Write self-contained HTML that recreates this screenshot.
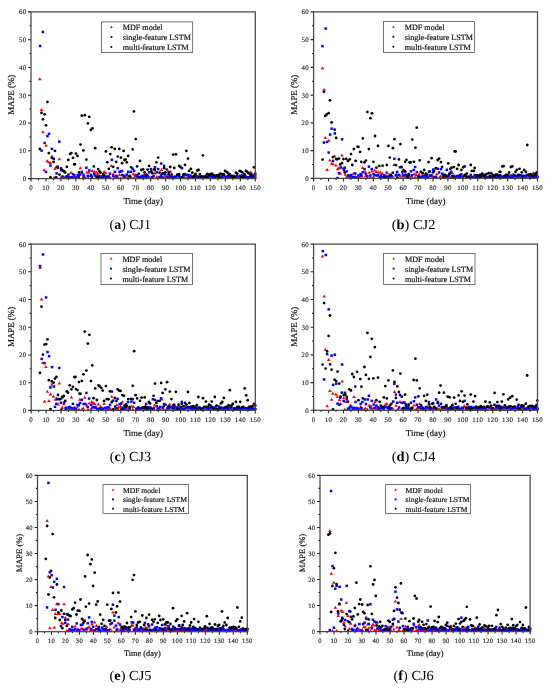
<!DOCTYPE html>
<html><head><meta charset="utf-8"><style>
html,body{margin:0;padding:0;background:#fff;}
svg{display:block;filter:blur(0.3px);}
text{font-family:"Liberation Serif","DejaVu Serif",serif;text-rendering:geometricPrecision;}
</style></head><body>
<svg width="550" height="689" viewBox="0 0 550 689">
<rect width="550" height="689" fill="#fff"/>
<clipPath id="cpa"><rect x="25.0" y="5.9" width="236.3" height="173.0"/></clipPath><g clip-path="url(#cpa)">
<g fill="#ff0000"><path d="M39.8 77.3l1.75 3.0h-3.5z"/><path d="M41.5 108.0l1.75 3.0h-3.5z"/><path d="M42.9 130.2l1.75 3.0h-3.5z"/><path d="M46.0 143.7l1.75 3.0h-3.5z"/><path d="M51.9 154.4l1.75 3.0h-3.5z"/><path d="M59.3 157.2l1.75 3.0h-3.5z"/><path d="M47.2 159.2l1.75 3.0h-3.5z"/><path d="M48.8 160.4l1.75 3.0h-3.5z"/><path d="M50.5 161.2l1.75 3.0h-3.5z"/><path d="M55.0 167.0l1.75 3.0h-3.5z"/><path d="M56.2 164.9l1.75 3.0h-3.5z"/><path d="M44.1 168.3l1.75 3.0h-3.5z"/><path d="M70.9 170.7l1.75 3.0h-3.5z"/><path d="M80.3 166.3l1.75 3.0h-3.5z"/><path d="M111.4 164.0l1.75 3.0h-3.5z"/><path d="M92.3 169.0l1.75 3.0h-3.5z"/><path d="M94.5 169.9l1.75 3.0h-3.5z"/><path d="M96.8 170.4l1.75 3.0h-3.5z"/><path d="M86.8 170.4l1.75 3.0h-3.5z"/><path d="M88.6 170.8l1.75 3.0h-3.5z"/><path d="M104.1 169.9l1.75 3.0h-3.5z"/><path d="M105.9 171.3l1.75 3.0h-3.5z"/><path d="M97.7 172.2l1.75 3.0h-3.5z"/><path d="M98.6 173.1l1.75 3.0h-3.5z"/><path d="M113.2 172.2l1.75 3.0h-3.5z"/><path d="M119.5 173.1l1.75 3.0h-3.5z"/><path d="M122.3 169.0l1.75 3.0h-3.5z"/><path d="M82.3 171.3l1.75 3.0h-3.5z"/><path d="M90.5 174.0l1.75 3.0h-3.5z"/><path d="M102.3 174.0l1.75 3.0h-3.5z"/><path d="M114.5 175.4l1.75 3.0h-3.5z"/><path d="M133.2 172.2l1.75 3.0h-3.5z"/><path d="M135.0 173.1l1.75 3.0h-3.5z"/><path d="M144.1 172.7l1.75 3.0h-3.5z"/><path d="M155.0 171.3l1.75 3.0h-3.5z"/><path d="M161.4 168.1l1.75 3.0h-3.5z"/><path d="M162.3 172.2l1.75 3.0h-3.5z"/><path d="M170.4 169.9l1.75 3.0h-3.5z"/><path d="M127.3 174.9l1.75 3.0h-3.5z"/><path d="M146.8 174.0l1.75 3.0h-3.5z"/><path d="M149.6 175.4l1.75 3.0h-3.5z"/><path d="M156.8 174.9l1.75 3.0h-3.5z"/><path d="M159.6 175.4l1.75 3.0h-3.5z"/><path d="M166.8 174.9l1.75 3.0h-3.5z"/><path d="M131.4 175.4l1.75 3.0h-3.5z"/><path d="M189.1 175.4l1.75 3.0h-3.5z"/><path d="M195.4 172.7l1.75 3.0h-3.5z"/><path d="M183.6 175.8l1.75 3.0h-3.5z"/><path d="M209.1 175.8l1.75 3.0h-3.5z"/><path d="M175.4 175.8l1.75 3.0h-3.5z"/><path d="M201.8 175.8l1.75 3.0h-3.5z"/><path d="M215.4 175.8l1.75 3.0h-3.5z"/><path d="M250.4 170.4l1.75 3.0h-3.5z"/><path d="M251.4 171.3l1.75 3.0h-3.5z"/><path d="M244.1 174.5l1.75 3.0h-3.5z"/><path d="M254.1 173.1l1.75 3.0h-3.5z"/><path d="M224.1 175.7l1.75 3.0h-3.5z"/><path d="M237.7 175.7l1.75 3.0h-3.5z"/><path d="M247.7 175.7l1.75 3.0h-3.5z"/><path d="M216.8 175.8l1.75 3.0h-3.5z"/><path d="M60.9 175.8l1.75 3.0h-3.5z"/><path d="M62.4 174.9l1.75 3.0h-3.5z"/><path d="M63.9 175.3l1.75 3.0h-3.5z"/><path d="M65.4 175.5l1.75 3.0h-3.5z"/><path d="M66.9 176.2l1.75 3.0h-3.5z"/><path d="M68.4 175.0l1.75 3.0h-3.5z"/><path d="M69.9 175.7l1.75 3.0h-3.5z"/><path d="M72.9 176.2l1.75 3.0h-3.5z"/><path d="M74.4 175.3l1.75 3.0h-3.5z"/><path d="M75.9 176.2l1.75 3.0h-3.5z"/><path d="M77.4 175.5l1.75 3.0h-3.5z"/><path d="M78.9 176.3l1.75 3.0h-3.5z"/><path d="M83.3 175.0l1.75 3.0h-3.5z"/><path d="M84.8 175.4l1.75 3.0h-3.5z"/><path d="M87.8 175.5l1.75 3.0h-3.5z"/><path d="M99.8 175.3l1.75 3.0h-3.5z"/><path d="M101.3 175.7l1.75 3.0h-3.5z"/><path d="M107.3 175.7l1.75 3.0h-3.5z"/><path d="M108.8 175.4l1.75 3.0h-3.5z"/><path d="M110.3 175.9l1.75 3.0h-3.5z"/><path d="M116.2 175.7l1.75 3.0h-3.5z"/><path d="M117.7 175.3l1.75 3.0h-3.5z"/><path d="M120.7 176.3l1.75 3.0h-3.5z"/><path d="M123.7 175.2l1.75 3.0h-3.5z"/><path d="M125.2 175.0l1.75 3.0h-3.5z"/><path d="M128.2 175.1l1.75 3.0h-3.5z"/><path d="M129.7 176.0l1.75 3.0h-3.5z"/><path d="M134.2 175.4l1.75 3.0h-3.5z"/><path d="M137.2 175.6l1.75 3.0h-3.5z"/><path d="M138.7 175.8l1.75 3.0h-3.5z"/><path d="M140.2 175.2l1.75 3.0h-3.5z"/><path d="M141.7 176.0l1.75 3.0h-3.5z"/><path d="M143.2 175.1l1.75 3.0h-3.5z"/><path d="M147.6 175.2l1.75 3.0h-3.5z"/><path d="M150.6 176.2l1.75 3.0h-3.5z"/><path d="M152.1 176.4l1.75 3.0h-3.5z"/><path d="M153.6 176.3l1.75 3.0h-3.5z"/><path d="M158.1 176.0l1.75 3.0h-3.5z"/><path d="M164.1 175.2l1.75 3.0h-3.5z"/><path d="M165.6 175.6l1.75 3.0h-3.5z"/><path d="M168.6 175.1l1.75 3.0h-3.5z"/><path d="M171.6 175.2l1.75 3.0h-3.5z"/><path d="M173.1 176.3l1.75 3.0h-3.5z"/><path d="M174.6 175.0l1.75 3.0h-3.5z"/><path d="M177.5 174.8l1.75 3.0h-3.5z"/><path d="M179.0 176.2l1.75 3.0h-3.5z"/><path d="M180.5 175.0l1.75 3.0h-3.5z"/><path d="M182.0 176.4l1.75 3.0h-3.5z"/><path d="M185.0 176.2l1.75 3.0h-3.5z"/><path d="M186.5 176.3l1.75 3.0h-3.5z"/><path d="M188.0 175.2l1.75 3.0h-3.5z"/><path d="M191.0 175.0l1.75 3.0h-3.5z"/><path d="M192.5 174.9l1.75 3.0h-3.5z"/><path d="M194.0 175.4l1.75 3.0h-3.5z"/><path d="M197.0 175.2l1.75 3.0h-3.5z"/><path d="M198.5 176.3l1.75 3.0h-3.5z"/><path d="M200.0 174.9l1.75 3.0h-3.5z"/><path d="M203.0 175.4l1.75 3.0h-3.5z"/><path d="M204.5 175.9l1.75 3.0h-3.5z"/><path d="M206.0 175.0l1.75 3.0h-3.5z"/><path d="M207.4 174.8l1.75 3.0h-3.5z"/><path d="M210.4 175.1l1.75 3.0h-3.5z"/><path d="M211.9 175.4l1.75 3.0h-3.5z"/><path d="M213.4 175.1l1.75 3.0h-3.5z"/><path d="M217.9 176.0l1.75 3.0h-3.5z"/><path d="M219.4 175.3l1.75 3.0h-3.5z"/><path d="M220.9 175.8l1.75 3.0h-3.5z"/><path d="M222.4 175.1l1.75 3.0h-3.5z"/><path d="M225.4 176.0l1.75 3.0h-3.5z"/><path d="M226.9 175.5l1.75 3.0h-3.5z"/><path d="M228.4 174.9l1.75 3.0h-3.5z"/><path d="M229.9 174.9l1.75 3.0h-3.5z"/><path d="M231.4 174.9l1.75 3.0h-3.5z"/><path d="M232.9 174.8l1.75 3.0h-3.5z"/><path d="M234.4 176.2l1.75 3.0h-3.5z"/><path d="M235.9 175.8l1.75 3.0h-3.5z"/><path d="M238.9 175.5l1.75 3.0h-3.5z"/><path d="M240.3 175.4l1.75 3.0h-3.5z"/><path d="M241.8 175.0l1.75 3.0h-3.5z"/><path d="M243.3 175.4l1.75 3.0h-3.5z"/><path d="M246.3 175.6l1.75 3.0h-3.5z"/><path d="M249.3 175.0l1.75 3.0h-3.5z"/><path d="M252.3 175.1l1.75 3.0h-3.5z"/><path d="M255.3 175.9l1.75 3.0h-3.5z"/></g>
<g fill="#0000ff"><rect x="41.55" y="30.69" width="2.5" height="2.5"/><rect x="38.81" y="44.80" width="2.5" height="2.5"/><rect x="47.73" y="132.60" width="2.5" height="2.5"/><rect x="46.18" y="134.89" width="2.5" height="2.5"/><rect x="58.04" y="140.37" width="2.5" height="2.5"/><rect x="43.31" y="141.68" width="2.5" height="2.5"/><rect x="40.37" y="149.37" width="2.5" height="2.5"/><rect x="50.68" y="147.57" width="2.5" height="2.5"/><rect x="52.48" y="157.55" width="2.5" height="2.5"/><rect x="49.20" y="164.34" width="2.5" height="2.5"/><rect x="56.57" y="165.40" width="2.5" height="2.5"/><rect x="44.70" y="170.64" width="2.5" height="2.5"/><rect x="59.84" y="169.00" width="2.5" height="2.5"/><rect x="62.70" y="170.31" width="2.5" height="2.5"/><rect x="55.34" y="172.11" width="2.5" height="2.5"/><rect x="67.20" y="173.34" width="2.5" height="2.5"/><rect x="71.70" y="172.93" width="2.5" height="2.5"/><rect x="53.30" y="176.61" width="2.5" height="2.5"/><rect x="64.75" y="175.80" width="2.5" height="2.5"/><rect x="68.02" y="176.20" width="2.5" height="2.5"/><rect x="71.30" y="176.04" width="2.5" height="2.5"/><rect x="85.11" y="166.48" width="2.5" height="2.5"/><rect x="110.57" y="158.48" width="2.5" height="2.5"/><rect x="116.48" y="166.93" width="2.5" height="2.5"/><rect x="88.11" y="169.20" width="2.5" height="2.5"/><rect x="80.57" y="170.57" width="2.5" height="2.5"/><rect x="113.75" y="170.57" width="2.5" height="2.5"/><rect x="118.30" y="170.57" width="2.5" height="2.5"/><rect x="120.11" y="170.11" width="2.5" height="2.5"/><rect x="108.75" y="172.39" width="2.5" height="2.5"/><rect x="92.84" y="172.84" width="2.5" height="2.5"/><rect x="89.66" y="173.75" width="2.5" height="2.5"/><rect x="86.48" y="174.66" width="2.5" height="2.5"/><rect x="76.48" y="173.75" width="2.5" height="2.5"/><rect x="78.75" y="173.30" width="2.5" height="2.5"/><rect x="82.39" y="173.75" width="2.5" height="2.5"/><rect x="121.02" y="173.75" width="2.5" height="2.5"/><rect x="123.30" y="174.66" width="2.5" height="2.5"/><rect x="99.20" y="175.11" width="2.5" height="2.5"/><rect x="105.57" y="175.57" width="2.5" height="2.5"/><rect x="107.39" y="175.11" width="2.5" height="2.5"/><rect x="74.66" y="176.30" width="2.5" height="2.5"/><rect x="82.84" y="176.48" width="2.5" height="2.5"/><rect x="90.57" y="175.57" width="2.5" height="2.5"/><rect x="115.11" y="174.66" width="2.5" height="2.5"/><rect x="131.48" y="167.57" width="2.5" height="2.5"/><rect x="132.84" y="169.66" width="2.5" height="2.5"/><rect x="126.93" y="170.57" width="2.5" height="2.5"/><rect x="129.66" y="170.57" width="2.5" height="2.5"/><rect x="153.75" y="166.02" width="2.5" height="2.5"/><rect x="149.66" y="167.84" width="2.5" height="2.5"/><rect x="156.93" y="167.84" width="2.5" height="2.5"/><rect x="162.84" y="164.66" width="2.5" height="2.5"/><rect x="167.39" y="170.57" width="2.5" height="2.5"/><rect x="125.57" y="173.30" width="2.5" height="2.5"/><rect x="135.11" y="174.66" width="2.5" height="2.5"/><rect x="137.39" y="176.02" width="2.5" height="2.5"/><rect x="140.57" y="174.66" width="2.5" height="2.5"/><rect x="147.84" y="171.02" width="2.5" height="2.5"/><rect x="155.57" y="171.02" width="2.5" height="2.5"/><rect x="161.93" y="171.93" width="2.5" height="2.5"/><rect x="163.75" y="173.30" width="2.5" height="2.5"/><rect x="151.02" y="176.02" width="2.5" height="2.5"/><rect x="161.02" y="176.02" width="2.5" height="2.5"/><rect x="170.80" y="175.57" width="2.5" height="2.5"/><rect x="173.30" y="175.57" width="2.5" height="2.5"/><rect x="180.75" y="166.93" width="2.5" height="2.5"/><rect x="183.75" y="172.84" width="2.5" height="2.5"/><rect x="186.93" y="173.75" width="2.5" height="2.5"/><rect x="189.20" y="174.20" width="2.5" height="2.5"/><rect x="176.02" y="174.20" width="2.5" height="2.5"/><rect x="174.20" y="175.57" width="2.5" height="2.5"/><rect x="195.11" y="175.11" width="2.5" height="2.5"/><rect x="199.66" y="175.57" width="2.5" height="2.5"/><rect x="202.39" y="175.57" width="2.5" height="2.5"/><rect x="211.48" y="175.57" width="2.5" height="2.5"/><rect x="216.02" y="174.20" width="2.5" height="2.5"/><rect x="218.30" y="173.75" width="2.5" height="2.5"/><rect x="178.75" y="176.02" width="2.5" height="2.5"/><rect x="190.57" y="175.75" width="2.5" height="2.5"/><rect x="206.93" y="175.75" width="2.5" height="2.5"/><rect x="214.66" y="175.11" width="2.5" height="2.5"/><rect x="217.39" y="175.57" width="2.5" height="2.5"/><rect x="221.02" y="175.11" width="2.5" height="2.5"/><rect x="224.66" y="175.75" width="2.5" height="2.5"/><rect x="228.30" y="175.11" width="2.5" height="2.5"/><rect x="231.93" y="174.66" width="2.5" height="2.5"/><rect x="235.57" y="174.48" width="2.5" height="2.5"/><rect x="238.30" y="175.11" width="2.5" height="2.5"/><rect x="241.02" y="174.20" width="2.5" height="2.5"/><rect x="244.66" y="175.57" width="2.5" height="2.5"/><rect x="248.30" y="176.02" width="2.5" height="2.5"/><rect x="251.93" y="175.39" width="2.5" height="2.5"/><rect x="252.84" y="176.48" width="2.5" height="2.5"/><rect x="219.20" y="176.48" width="2.5" height="2.5"/><rect x="230.11" y="176.48" width="2.5" height="2.5"/><rect x="61.15" y="175.39" width="2.5" height="2.5"/><rect x="65.64" y="174.96" width="2.5" height="2.5"/><rect x="70.12" y="176.07" width="2.5" height="2.5"/><rect x="73.11" y="174.02" width="2.5" height="2.5"/><rect x="77.60" y="175.39" width="2.5" height="2.5"/><rect x="94.05" y="174.29" width="2.5" height="2.5"/><rect x="95.54" y="175.60" width="2.5" height="2.5"/><rect x="97.04" y="175.67" width="2.5" height="2.5"/><rect x="100.03" y="175.53" width="2.5" height="2.5"/><rect x="101.53" y="175.94" width="2.5" height="2.5"/><rect x="103.02" y="175.36" width="2.5" height="2.5"/><rect x="104.52" y="175.41" width="2.5" height="2.5"/><rect x="111.99" y="174.72" width="2.5" height="2.5"/><rect x="122.46" y="174.89" width="2.5" height="2.5"/><rect x="128.44" y="175.94" width="2.5" height="2.5"/><rect x="135.92" y="173.91" width="2.5" height="2.5"/><rect x="138.91" y="175.87" width="2.5" height="2.5"/><rect x="141.90" y="175.98" width="2.5" height="2.5"/><rect x="143.40" y="174.70" width="2.5" height="2.5"/><rect x="144.89" y="175.55" width="2.5" height="2.5"/><rect x="146.39" y="174.45" width="2.5" height="2.5"/><rect x="152.37" y="174.67" width="2.5" height="2.5"/><rect x="158.35" y="175.82" width="2.5" height="2.5"/><rect x="159.84" y="174.25" width="2.5" height="2.5"/><rect x="165.83" y="175.39" width="2.5" height="2.5"/><rect x="168.82" y="175.07" width="2.5" height="2.5"/><rect x="171.81" y="176.08" width="2.5" height="2.5"/><rect x="177.79" y="174.50" width="2.5" height="2.5"/><rect x="182.27" y="174.91" width="2.5" height="2.5"/><rect x="185.26" y="173.77" width="2.5" height="2.5"/><rect x="188.26" y="176.14" width="2.5" height="2.5"/><rect x="192.74" y="175.89" width="2.5" height="2.5"/><rect x="194.24" y="175.38" width="2.5" height="2.5"/><rect x="197.23" y="175.19" width="2.5" height="2.5"/><rect x="198.72" y="175.98" width="2.5" height="2.5"/><rect x="203.21" y="175.38" width="2.5" height="2.5"/><rect x="204.70" y="174.30" width="2.5" height="2.5"/><rect x="207.69" y="174.73" width="2.5" height="2.5"/><rect x="209.19" y="174.37" width="2.5" height="2.5"/><rect x="210.69" y="174.53" width="2.5" height="2.5"/><rect x="213.68" y="174.67" width="2.5" height="2.5"/><rect x="222.65" y="174.15" width="2.5" height="2.5"/><rect x="225.64" y="175.29" width="2.5" height="2.5"/><rect x="227.13" y="174.05" width="2.5" height="2.5"/><rect x="233.12" y="175.54" width="2.5" height="2.5"/><rect x="234.61" y="175.81" width="2.5" height="2.5"/><rect x="239.10" y="174.53" width="2.5" height="2.5"/><rect x="242.09" y="175.77" width="2.5" height="2.5"/><rect x="243.58" y="175.74" width="2.5" height="2.5"/><rect x="246.57" y="176.22" width="2.5" height="2.5"/><rect x="249.56" y="174.44" width="2.5" height="2.5"/><rect x="251.06" y="173.77" width="2.5" height="2.5"/><rect x="254.05" y="174.93" width="2.5" height="2.5"/></g>
<g fill="#000"><circle cx="47.4" cy="101.9" r="1.38"/><circle cx="41.5" cy="112.9" r="1.38"/><circle cx="44.6" cy="114.3" r="1.38"/><circle cx="42.9" cy="119.3" r="1.38"/><circle cx="46.0" cy="125.3" r="1.38"/><circle cx="39.8" cy="149.0" r="1.38"/><circle cx="55.0" cy="150.9" r="1.38"/><circle cx="48.8" cy="153.1" r="1.38"/><circle cx="70.1" cy="153.9" r="1.38"/><circle cx="71.3" cy="153.1" r="1.38"/><circle cx="51.9" cy="157.8" r="1.38"/><circle cx="73.0" cy="157.8" r="1.38"/><circle cx="68.3" cy="159.9" r="1.38"/><circle cx="53.6" cy="161.9" r="1.38"/><circle cx="74.2" cy="164.4" r="1.38"/><circle cx="66.8" cy="166.8" r="1.38"/><circle cx="57.8" cy="167.8" r="1.38"/><circle cx="61.1" cy="168.4" r="1.38"/><circle cx="62.3" cy="170.1" r="1.38"/><circle cx="64.0" cy="171.3" r="1.38"/><circle cx="65.2" cy="172.6" r="1.38"/><circle cx="59.5" cy="174.6" r="1.38"/><circle cx="50.5" cy="177.4" r="1.38"/><circle cx="56.2" cy="177.4" r="1.38"/><circle cx="81.8" cy="115.7" r="1.38"/><circle cx="84.8" cy="115.2" r="1.38"/><circle cx="89.2" cy="116.8" r="1.38"/><circle cx="87.9" cy="123.4" r="1.38"/><circle cx="90.8" cy="129.9" r="1.38"/><circle cx="92.5" cy="128.3" r="1.38"/><circle cx="133.9" cy="111.4" r="1.38"/><circle cx="80.5" cy="144.6" r="1.38"/><circle cx="83.4" cy="150.4" r="1.38"/><circle cx="75.9" cy="153.6" r="1.38"/><circle cx="77.5" cy="155.9" r="1.38"/><circle cx="95.2" cy="148.2" r="1.38"/><circle cx="86.4" cy="159.6" r="1.38"/><circle cx="75.0" cy="164.1" r="1.38"/><circle cx="105.9" cy="151.4" r="1.38"/><circle cx="110.3" cy="154.1" r="1.38"/><circle cx="111.6" cy="147.3" r="1.38"/><circle cx="114.8" cy="148.8" r="1.38"/><circle cx="119.3" cy="148.9" r="1.38"/><circle cx="123.6" cy="150.9" r="1.38"/><circle cx="117.7" cy="156.6" r="1.38"/><circle cx="120.9" cy="157.7" r="1.38"/><circle cx="107.3" cy="162.3" r="1.38"/><circle cx="116.2" cy="161.8" r="1.38"/><circle cx="122.1" cy="163.2" r="1.38"/><circle cx="124.5" cy="160.0" r="1.38"/><circle cx="93.8" cy="166.4" r="1.38"/><circle cx="98.2" cy="169.1" r="1.38"/><circle cx="108.8" cy="168.8" r="1.38"/><circle cx="113.2" cy="166.8" r="1.38"/><circle cx="79.1" cy="172.3" r="1.38"/><circle cx="99.5" cy="171.4" r="1.38"/><circle cx="100.5" cy="172.7" r="1.38"/><circle cx="103.2" cy="174.1" r="1.38"/><circle cx="104.1" cy="175.4" r="1.38"/><circle cx="98.2" cy="176.8" r="1.38"/><circle cx="96.8" cy="177.7" r="1.38"/><circle cx="135.7" cy="139.1" r="1.38"/><circle cx="132.7" cy="149.4" r="1.38"/><circle cx="128.2" cy="155.9" r="1.38"/><circle cx="125.5" cy="159.6" r="1.38"/><circle cx="126.8" cy="162.3" r="1.38"/><circle cx="140.0" cy="160.9" r="1.38"/><circle cx="158.2" cy="157.6" r="1.38"/><circle cx="173.2" cy="154.6" r="1.38"/><circle cx="156.4" cy="162.3" r="1.38"/><circle cx="161.2" cy="163.6" r="1.38"/><circle cx="131.2" cy="167.3" r="1.38"/><circle cx="137.1" cy="166.4" r="1.38"/><circle cx="149.1" cy="165.9" r="1.38"/><circle cx="170.2" cy="167.0" r="1.38"/><circle cx="174.2" cy="167.9" r="1.38"/><circle cx="141.4" cy="170.0" r="1.38"/><circle cx="143.2" cy="169.4" r="1.38"/><circle cx="147.6" cy="169.6" r="1.38"/><circle cx="154.1" cy="169.4" r="1.38"/><circle cx="155.0" cy="170.0" r="1.38"/><circle cx="164.1" cy="168.2" r="1.38"/><circle cx="166.8" cy="169.6" r="1.38"/><circle cx="138.6" cy="173.9" r="1.38"/><circle cx="144.6" cy="172.3" r="1.38"/><circle cx="146.4" cy="174.6" r="1.38"/><circle cx="151.4" cy="171.4" r="1.38"/><circle cx="152.3" cy="173.2" r="1.38"/><circle cx="159.6" cy="172.7" r="1.38"/><circle cx="165.4" cy="172.3" r="1.38"/><circle cx="129.6" cy="175.9" r="1.38"/><circle cx="186.4" cy="150.9" r="1.38"/><circle cx="175.9" cy="154.3" r="1.38"/><circle cx="188.0" cy="158.6" r="1.38"/><circle cx="202.9" cy="155.4" r="1.38"/><circle cx="185.0" cy="164.8" r="1.38"/><circle cx="179.1" cy="165.9" r="1.38"/><circle cx="180.4" cy="167.0" r="1.38"/><circle cx="190.9" cy="168.8" r="1.38"/><circle cx="189.1" cy="170.9" r="1.38"/><circle cx="192.3" cy="172.7" r="1.38"/><circle cx="197.3" cy="170.6" r="1.38"/><circle cx="198.6" cy="170.0" r="1.38"/><circle cx="200.0" cy="174.1" r="1.38"/><circle cx="211.8" cy="173.6" r="1.38"/><circle cx="209.1" cy="175.0" r="1.38"/><circle cx="177.3" cy="174.6" r="1.38"/><circle cx="179.1" cy="174.1" r="1.38"/><circle cx="181.8" cy="177.3" r="1.38"/><circle cx="193.2" cy="177.3" r="1.38"/><circle cx="199.1" cy="177.7" r="1.38"/><circle cx="206.4" cy="177.3" r="1.38"/><circle cx="214.6" cy="177.7" r="1.38"/><circle cx="219.1" cy="177.3" r="1.38"/><circle cx="253.9" cy="167.3" r="1.38"/><circle cx="225.0" cy="170.9" r="1.38"/><circle cx="226.4" cy="171.8" r="1.38"/><circle cx="227.7" cy="172.7" r="1.38"/><circle cx="229.6" cy="174.1" r="1.38"/><circle cx="239.6" cy="170.9" r="1.38"/><circle cx="240.9" cy="171.4" r="1.38"/><circle cx="242.3" cy="172.3" r="1.38"/><circle cx="244.1" cy="174.1" r="1.38"/><circle cx="245.0" cy="175.0" r="1.38"/><circle cx="245.9" cy="170.9" r="1.38"/><circle cx="247.3" cy="171.8" r="1.38"/><circle cx="248.6" cy="173.2" r="1.38"/><circle cx="250.4" cy="174.6" r="1.38"/><circle cx="235.9" cy="172.7" r="1.38"/><circle cx="237.3" cy="173.6" r="1.38"/><circle cx="220.4" cy="173.6" r="1.38"/><circle cx="222.3" cy="174.1" r="1.38"/><circle cx="216.4" cy="175.4" r="1.38"/><circle cx="218.6" cy="175.0" r="1.38"/><circle cx="233.2" cy="176.8" r="1.38"/><circle cx="241.4" cy="177.0" r="1.38"/><circle cx="252.3" cy="176.4" r="1.38"/><circle cx="162.6" cy="173.3" r="1.38"/><circle cx="168.6" cy="174.2" r="1.38"/><circle cx="171.6" cy="174.6" r="1.38"/><circle cx="183.5" cy="174.5" r="1.38"/><circle cx="194.0" cy="175.8" r="1.38"/><circle cx="195.5" cy="173.8" r="1.38"/><circle cx="201.5" cy="176.4" r="1.38"/><circle cx="204.5" cy="176.8" r="1.38"/><circle cx="207.4" cy="173.8" r="1.38"/><circle cx="210.4" cy="174.1" r="1.38"/><circle cx="213.4" cy="175.0" r="1.38"/><circle cx="223.9" cy="174.4" r="1.38"/><circle cx="231.4" cy="176.0" r="1.38"/><circle cx="234.4" cy="176.7" r="1.38"/><circle cx="243.3" cy="176.6" r="1.38"/><circle cx="255.3" cy="173.7" r="1.38"/></g>
</g>
<rect x="31.0" y="11.9" width="224.3" height="166.7" fill="none" stroke="#484848" stroke-width="1.25"/>
<path d="M31.00 178.6v3M38.48 178.6v1.6M45.95 178.6v3M53.43 178.6v1.6M60.91 178.6v3M68.38 178.6v1.6M75.86 178.6v3M83.34 178.6v1.6M90.81 178.6v3M98.29 178.6v1.6M105.77 178.6v3M113.24 178.6v1.6M120.72 178.6v3M128.20 178.6v1.6M135.67 178.6v3M143.15 178.6v1.6M150.63 178.6v3M158.10 178.6v1.6M165.58 178.6v3M173.06 178.6v1.6M180.53 178.6v3M188.01 178.6v1.6M195.49 178.6v3M202.96 178.6v1.6M210.44 178.6v3M217.92 178.6v1.6M225.39 178.6v3M232.87 178.6v1.6M240.35 178.6v3M247.82 178.6v1.6M255.30 178.6v3M31.0 178.60h-3M31.0 164.71h-1.6M31.0 150.82h-3M31.0 136.93h-1.6M31.0 123.03h-3M31.0 109.14h-1.6M31.0 95.25h-3M31.0 81.36h-1.6M31.0 67.47h-3M31.0 53.57h-1.6M31.0 39.68h-3M31.0 25.79h-1.6M31.0 11.90h-3" stroke="#2a2a2a" stroke-width="1.1" fill="none"/>
<g font-size="6.9" fill="#222" stroke="#222" stroke-width="0.14" letter-spacing="0.3"><text x="31.00" y="190.1" text-anchor="middle">0</text><text x="45.95" y="190.1" text-anchor="middle">10</text><text x="60.91" y="190.1" text-anchor="middle">20</text><text x="75.86" y="190.1" text-anchor="middle">30</text><text x="90.81" y="190.1" text-anchor="middle">40</text><text x="105.77" y="190.1" text-anchor="middle">50</text><text x="120.72" y="190.1" text-anchor="middle">60</text><text x="135.67" y="190.1" text-anchor="middle">70</text><text x="150.63" y="190.1" text-anchor="middle">80</text><text x="165.58" y="190.1" text-anchor="middle">90</text><text x="180.53" y="190.1" text-anchor="middle">100</text><text x="195.49" y="190.1" text-anchor="middle">110</text><text x="210.44" y="190.1" text-anchor="middle">120</text><text x="225.39" y="190.1" text-anchor="middle">130</text><text x="240.35" y="190.1" text-anchor="middle">140</text><text x="255.30" y="190.1" text-anchor="middle">150</text><text x="26.40" y="181.0" text-anchor="end">0</text><text x="26.40" y="153.2" text-anchor="end">10</text><text x="26.40" y="125.4" text-anchor="end">20</text><text x="26.40" y="97.7" text-anchor="end">30</text><text x="26.40" y="69.9" text-anchor="end">40</text><text x="26.40" y="42.1" text-anchor="end">50</text><text x="26.40" y="14.3" text-anchor="end">60</text></g>
<text x="143.2" y="204.4" text-anchor="middle" font-size="9.0" fill="#111" stroke="#111" stroke-width="0.18" textLength="39.6" lengthAdjust="spacingAndGlyphs">Time (day)</text>
<text transform="translate(13.7,94.8) rotate(-90)" text-anchor="middle" font-size="9.0" fill="#111" stroke="#111" stroke-width="0.18" textLength="40.1" lengthAdjust="spacingAndGlyphs">MAPE (%)</text>
<rect x="101.4" y="21.9" width="91.3" height="30.7" fill="#fff" stroke="#555" stroke-width="0.8"/>
<path d="M111.4 25.7l1.35 2.3h-2.7z" fill="#f00"/>
<text x="122.8" y="30.1" font-size="8.1" fill="#111" stroke="#111" stroke-width="0.18">MDF model</text>
<rect x="110.5" y="36.1" width="1.9" height="1.9" fill="#00f"/>
<text x="122.8" y="40.1" font-size="8.1" fill="#111" stroke="#111" stroke-width="0.18">single-feature LSTM</text>
<circle cx="111.4" cy="47.1" r="1.0" fill="#000"/>
<text x="122.8" y="50.1" font-size="8.1" fill="#111" stroke="#111" stroke-width="0.18">multi-feature LSTM</text>
<text x="130.3" y="229.1" text-anchor="middle" font-size="13.8" fill="#000" textLength="41.4" lengthAdjust="spacingAndGlyphs">(<tspan font-weight="bold">a</tspan>) CJ1</text>
<clipPath id="cpb"><rect x="307.6" y="5.9" width="235.9" height="172.8"/></clipPath><g clip-path="url(#cpb)">
<g fill="#ff0000"><path d="M322.4 66.5l1.75 3.0h-3.5z"/><path d="M324.1 88.0l1.75 3.0h-3.5z"/><path d="M325.3 136.1l1.75 3.0h-3.5z"/><path d="M328.9 138.8l1.75 3.0h-3.5z"/><path d="M341.9 153.4l1.75 3.0h-3.5z"/><path d="M334.6 154.5l1.75 3.0h-3.5z"/><path d="M329.8 158.5l1.75 3.0h-3.5z"/><path d="M331.6 161.7l1.75 3.0h-3.5z"/><path d="M333.0 162.2l1.75 3.0h-3.5z"/><path d="M335.9 163.4l1.75 3.0h-3.5z"/><path d="M327.1 167.9l1.75 3.0h-3.5z"/><path d="M337.6 167.2l1.75 3.0h-3.5z"/><path d="M338.9 166.3l1.75 3.0h-3.5z"/><path d="M343.0 166.3l1.75 3.0h-3.5z"/><path d="M340.3 171.7l1.75 3.0h-3.5z"/><path d="M345.3 172.8l1.75 3.0h-3.5z"/><path d="M353.4 171.7l1.75 3.0h-3.5z"/><path d="M362.6 166.0l1.75 3.0h-3.5z"/><path d="M347.6 175.8l1.75 3.0h-3.5z"/><path d="M350.3 175.4l1.75 3.0h-3.5z"/><path d="M394.1 163.1l1.75 3.0h-3.5z"/><path d="M374.6 168.5l1.75 3.0h-3.5z"/><path d="M376.4 169.9l1.75 3.0h-3.5z"/><path d="M378.2 170.4l1.75 3.0h-3.5z"/><path d="M371.8 169.5l1.75 3.0h-3.5z"/><path d="M369.1 170.8l1.75 3.0h-3.5z"/><path d="M380.4 170.8l1.75 3.0h-3.5z"/><path d="M382.3 171.7l1.75 3.0h-3.5z"/><path d="M386.4 170.4l1.75 3.0h-3.5z"/><path d="M387.3 171.3l1.75 3.0h-3.5z"/><path d="M396.4 172.2l1.75 3.0h-3.5z"/><path d="M398.2 173.1l1.75 3.0h-3.5z"/><path d="M402.7 172.2l1.75 3.0h-3.5z"/><path d="M405.9 173.1l1.75 3.0h-3.5z"/><path d="M365.0 169.9l1.75 3.0h-3.5z"/><path d="M390.0 175.4l1.75 3.0h-3.5z"/><path d="M365.4 174.5l1.75 3.0h-3.5z"/><path d="M361.8 174.5l1.75 3.0h-3.5z"/><path d="M405.4 169.5l1.75 3.0h-3.5z"/><path d="M414.1 172.2l1.75 3.0h-3.5z"/><path d="M415.9 173.1l1.75 3.0h-3.5z"/><path d="M419.1 172.2l1.75 3.0h-3.5z"/><path d="M429.6 173.5l1.75 3.0h-3.5z"/><path d="M431.4 174.5l1.75 3.0h-3.5z"/><path d="M436.8 172.2l1.75 3.0h-3.5z"/><path d="M443.2 173.1l1.75 3.0h-3.5z"/><path d="M452.3 171.0l1.75 3.0h-3.5z"/><path d="M411.8 175.4l1.75 3.0h-3.5z"/><path d="M439.6 175.4l1.75 3.0h-3.5z"/><path d="M442.3 175.4l1.75 3.0h-3.5z"/><path d="M447.7 175.4l1.75 3.0h-3.5z"/><path d="M450.4 175.4l1.75 3.0h-3.5z"/><path d="M463.6 174.0l1.75 3.0h-3.5z"/><path d="M474.6 173.5l1.75 3.0h-3.5z"/><path d="M481.8 175.8l1.75 3.0h-3.5z"/><path d="M486.4 174.9l1.75 3.0h-3.5z"/><path d="M495.4 175.7l1.75 3.0h-3.5z"/><path d="M455.4 175.8l1.75 3.0h-3.5z"/><path d="M470.9 175.8l1.75 3.0h-3.5z"/><path d="M533.2 171.3l1.75 3.0h-3.5z"/><path d="M500.4 173.5l1.75 3.0h-3.5z"/><path d="M515.9 175.4l1.75 3.0h-3.5z"/><path d="M526.8 175.4l1.75 3.0h-3.5z"/><path d="M536.8 173.1l1.75 3.0h-3.5z"/><path d="M505.0 175.7l1.75 3.0h-3.5z"/><path d="M521.4 175.7l1.75 3.0h-3.5z"/><path d="M346.4 175.6l1.75 3.0h-3.5z"/><path d="M349.4 176.1l1.75 3.0h-3.5z"/><path d="M352.4 175.9l1.75 3.0h-3.5z"/><path d="M355.4 174.9l1.75 3.0h-3.5z"/><path d="M356.9 175.9l1.75 3.0h-3.5z"/><path d="M358.4 176.0l1.75 3.0h-3.5z"/><path d="M359.9 174.8l1.75 3.0h-3.5z"/><path d="M367.3 176.0l1.75 3.0h-3.5z"/><path d="M370.3 175.6l1.75 3.0h-3.5z"/><path d="M373.3 175.2l1.75 3.0h-3.5z"/><path d="M379.3 176.0l1.75 3.0h-3.5z"/><path d="M383.8 174.9l1.75 3.0h-3.5z"/><path d="M385.2 174.9l1.75 3.0h-3.5z"/><path d="M388.2 175.3l1.75 3.0h-3.5z"/><path d="M391.2 174.6l1.75 3.0h-3.5z"/><path d="M392.7 174.7l1.75 3.0h-3.5z"/><path d="M397.2 175.7l1.75 3.0h-3.5z"/><path d="M400.2 174.6l1.75 3.0h-3.5z"/><path d="M401.7 176.0l1.75 3.0h-3.5z"/><path d="M404.7 174.8l1.75 3.0h-3.5z"/><path d="M407.6 175.1l1.75 3.0h-3.5z"/><path d="M409.1 175.5l1.75 3.0h-3.5z"/><path d="M410.6 175.0l1.75 3.0h-3.5z"/><path d="M415.1 175.4l1.75 3.0h-3.5z"/><path d="M418.1 175.4l1.75 3.0h-3.5z"/><path d="M421.1 175.6l1.75 3.0h-3.5z"/><path d="M422.6 175.9l1.75 3.0h-3.5z"/><path d="M424.1 176.1l1.75 3.0h-3.5z"/><path d="M425.6 175.6l1.75 3.0h-3.5z"/><path d="M427.0 175.5l1.75 3.0h-3.5z"/><path d="M428.5 175.6l1.75 3.0h-3.5z"/><path d="M433.0 174.8l1.75 3.0h-3.5z"/><path d="M434.5 175.4l1.75 3.0h-3.5z"/><path d="M436.0 174.7l1.75 3.0h-3.5z"/><path d="M440.5 174.6l1.75 3.0h-3.5z"/><path d="M445.0 175.8l1.75 3.0h-3.5z"/><path d="M446.4 175.7l1.75 3.0h-3.5z"/><path d="M449.4 175.1l1.75 3.0h-3.5z"/><path d="M453.9 175.5l1.75 3.0h-3.5z"/><path d="M456.9 176.2l1.75 3.0h-3.5z"/><path d="M458.4 175.8l1.75 3.0h-3.5z"/><path d="M459.9 175.0l1.75 3.0h-3.5z"/><path d="M461.4 174.6l1.75 3.0h-3.5z"/><path d="M462.9 175.9l1.75 3.0h-3.5z"/><path d="M465.9 175.5l1.75 3.0h-3.5z"/><path d="M467.3 175.6l1.75 3.0h-3.5z"/><path d="M468.8 175.1l1.75 3.0h-3.5z"/><path d="M471.8 174.6l1.75 3.0h-3.5z"/><path d="M473.3 175.6l1.75 3.0h-3.5z"/><path d="M476.3 174.9l1.75 3.0h-3.5z"/><path d="M477.8 176.0l1.75 3.0h-3.5z"/><path d="M479.3 175.1l1.75 3.0h-3.5z"/><path d="M480.8 175.5l1.75 3.0h-3.5z"/><path d="M483.8 176.1l1.75 3.0h-3.5z"/><path d="M485.3 175.7l1.75 3.0h-3.5z"/><path d="M488.2 175.9l1.75 3.0h-3.5z"/><path d="M489.7 174.8l1.75 3.0h-3.5z"/><path d="M491.2 175.6l1.75 3.0h-3.5z"/><path d="M492.7 175.3l1.75 3.0h-3.5z"/><path d="M494.2 175.7l1.75 3.0h-3.5z"/><path d="M497.2 175.4l1.75 3.0h-3.5z"/><path d="M498.7 174.8l1.75 3.0h-3.5z"/><path d="M501.7 175.6l1.75 3.0h-3.5z"/><path d="M503.2 174.6l1.75 3.0h-3.5z"/><path d="M506.2 175.6l1.75 3.0h-3.5z"/><path d="M507.6 174.8l1.75 3.0h-3.5z"/><path d="M509.1 175.5l1.75 3.0h-3.5z"/><path d="M510.6 175.7l1.75 3.0h-3.5z"/><path d="M512.1 175.8l1.75 3.0h-3.5z"/><path d="M513.6 175.3l1.75 3.0h-3.5z"/><path d="M515.1 175.2l1.75 3.0h-3.5z"/><path d="M518.1 174.9l1.75 3.0h-3.5z"/><path d="M519.6 175.0l1.75 3.0h-3.5z"/><path d="M522.6 174.8l1.75 3.0h-3.5z"/><path d="M524.1 175.7l1.75 3.0h-3.5z"/><path d="M525.6 174.6l1.75 3.0h-3.5z"/><path d="M528.5 175.6l1.75 3.0h-3.5z"/><path d="M530.0 176.1l1.75 3.0h-3.5z"/><path d="M531.5 175.3l1.75 3.0h-3.5z"/><path d="M534.5 175.6l1.75 3.0h-3.5z"/><path d="M536.0 174.8l1.75 3.0h-3.5z"/></g>
<g fill="#0000ff"><rect x="324.42" y="27.30" width="2.5" height="2.5"/><rect x="321.29" y="44.93" width="2.5" height="2.5"/><rect x="330.39" y="127.39" width="2.5" height="2.5"/><rect x="333.57" y="132.20" width="2.5" height="2.5"/><rect x="328.84" y="133.30" width="2.5" height="2.5"/><rect x="322.66" y="141.30" width="2.5" height="2.5"/><rect x="325.84" y="140.57" width="2.5" height="2.5"/><rect x="340.84" y="138.02" width="2.5" height="2.5"/><rect x="327.39" y="151.30" width="2.5" height="2.5"/><rect x="334.93" y="157.66" width="2.5" height="2.5"/><rect x="331.75" y="159.66" width="2.5" height="2.5"/><rect x="339.48" y="166.20" width="2.5" height="2.5"/><rect x="343.57" y="166.48" width="2.5" height="2.5"/><rect x="342.66" y="168.75" width="2.5" height="2.5"/><rect x="345.39" y="170.11" width="2.5" height="2.5"/><rect x="337.66" y="171.93" width="2.5" height="2.5"/><rect x="347.02" y="174.20" width="2.5" height="2.5"/><rect x="349.93" y="173.75" width="2.5" height="2.5"/><rect x="354.02" y="172.20" width="2.5" height="2.5"/><rect x="359.34" y="172.98" width="2.5" height="2.5"/><rect x="336.30" y="176.75" width="2.5" height="2.5"/><rect x="352.66" y="175.84" width="2.5" height="2.5"/><rect x="355.39" y="176.48" width="2.5" height="2.5"/><rect x="393.11" y="157.57" width="2.5" height="2.5"/><rect x="367.66" y="165.39" width="2.5" height="2.5"/><rect x="370.57" y="167.84" width="2.5" height="2.5"/><rect x="363.30" y="167.84" width="2.5" height="2.5"/><rect x="398.75" y="166.02" width="2.5" height="2.5"/><rect x="395.84" y="170.57" width="2.5" height="2.5"/><rect x="401.02" y="170.84" width="2.5" height="2.5"/><rect x="391.48" y="171.48" width="2.5" height="2.5"/><rect x="361.48" y="171.02" width="2.5" height="2.5"/><rect x="364.66" y="172.84" width="2.5" height="2.5"/><rect x="372.39" y="172.84" width="2.5" height="2.5"/><rect x="375.57" y="174.20" width="2.5" height="2.5"/><rect x="388.75" y="173.75" width="2.5" height="2.5"/><rect x="397.84" y="173.75" width="2.5" height="2.5"/><rect x="403.75" y="173.75" width="2.5" height="2.5"/><rect x="378.75" y="176.02" width="2.5" height="2.5"/><rect x="386.02" y="175.57" width="2.5" height="2.5"/><rect x="413.93" y="165.75" width="2.5" height="2.5"/><rect x="412.39" y="168.75" width="2.5" height="2.5"/><rect x="409.66" y="170.11" width="2.5" height="2.5"/><rect x="415.57" y="170.84" width="2.5" height="2.5"/><rect x="431.93" y="168.30" width="2.5" height="2.5"/><rect x="436.48" y="167.57" width="2.5" height="2.5"/><rect x="439.66" y="167.84" width="2.5" height="2.5"/><rect x="445.57" y="168.48" width="2.5" height="2.5"/><rect x="427.84" y="170.57" width="2.5" height="2.5"/><rect x="437.84" y="171.20" width="2.5" height="2.5"/><rect x="441.02" y="172.39" width="2.5" height="2.5"/><rect x="448.30" y="172.39" width="2.5" height="2.5"/><rect x="449.66" y="170.57" width="2.5" height="2.5"/><rect x="404.66" y="173.75" width="2.5" height="2.5"/><rect x="406.48" y="175.11" width="2.5" height="2.5"/><rect x="420.11" y="176.02" width="2.5" height="2.5"/><rect x="423.30" y="174.66" width="2.5" height="2.5"/><rect x="432.84" y="176.02" width="2.5" height="2.5"/><rect x="451.93" y="175.11" width="2.5" height="2.5"/><rect x="463.48" y="165.11" width="2.5" height="2.5"/><rect x="460.11" y="173.02" width="2.5" height="2.5"/><rect x="469.48" y="173.75" width="2.5" height="2.5"/><rect x="452.84" y="174.66" width="2.5" height="2.5"/><rect x="456.02" y="174.66" width="2.5" height="2.5"/><rect x="457.84" y="175.11" width="2.5" height="2.5"/><rect x="472.39" y="176.48" width="2.5" height="2.5"/><rect x="476.02" y="176.02" width="2.5" height="2.5"/><rect x="479.66" y="176.02" width="2.5" height="2.5"/><rect x="491.48" y="176.02" width="2.5" height="2.5"/><rect x="496.02" y="175.57" width="2.5" height="2.5"/><rect x="465.11" y="175.75" width="2.5" height="2.5"/><rect x="485.11" y="176.30" width="2.5" height="2.5"/><rect x="494.66" y="175.11" width="2.5" height="2.5"/><rect x="500.11" y="175.57" width="2.5" height="2.5"/><rect x="505.57" y="175.11" width="2.5" height="2.5"/><rect x="511.93" y="174.66" width="2.5" height="2.5"/><rect x="515.57" y="175.11" width="2.5" height="2.5"/><rect x="521.02" y="175.11" width="2.5" height="2.5"/><rect x="525.57" y="173.75" width="2.5" height="2.5"/><rect x="533.75" y="174.66" width="2.5" height="2.5"/><rect x="508.30" y="175.75" width="2.5" height="2.5"/><rect x="530.11" y="175.57" width="2.5" height="2.5"/><rect x="348.17" y="174.59" width="2.5" height="2.5"/><rect x="351.16" y="175.77" width="2.5" height="2.5"/><rect x="357.13" y="174.21" width="2.5" height="2.5"/><rect x="360.12" y="174.07" width="2.5" height="2.5"/><rect x="366.09" y="175.10" width="2.5" height="2.5"/><rect x="369.07" y="174.24" width="2.5" height="2.5"/><rect x="373.55" y="173.99" width="2.5" height="2.5"/><rect x="376.53" y="174.01" width="2.5" height="2.5"/><rect x="379.52" y="174.30" width="2.5" height="2.5"/><rect x="381.01" y="176.02" width="2.5" height="2.5"/><rect x="382.51" y="174.15" width="2.5" height="2.5"/><rect x="384.00" y="174.64" width="2.5" height="2.5"/><rect x="386.98" y="175.37" width="2.5" height="2.5"/><rect x="389.97" y="174.65" width="2.5" height="2.5"/><rect x="394.45" y="174.13" width="2.5" height="2.5"/><rect x="401.91" y="174.30" width="2.5" height="2.5"/><rect x="407.88" y="173.82" width="2.5" height="2.5"/><rect x="410.87" y="174.04" width="2.5" height="2.5"/><rect x="416.84" y="175.36" width="2.5" height="2.5"/><rect x="418.33" y="175.64" width="2.5" height="2.5"/><rect x="421.31" y="174.74" width="2.5" height="2.5"/><rect x="424.30" y="174.04" width="2.5" height="2.5"/><rect x="425.79" y="175.84" width="2.5" height="2.5"/><rect x="428.78" y="174.46" width="2.5" height="2.5"/><rect x="430.27" y="173.81" width="2.5" height="2.5"/><rect x="434.75" y="175.75" width="2.5" height="2.5"/><rect x="442.21" y="174.67" width="2.5" height="2.5"/><rect x="443.70" y="175.05" width="2.5" height="2.5"/><rect x="446.69" y="174.57" width="2.5" height="2.5"/><rect x="451.17" y="175.19" width="2.5" height="2.5"/><rect x="454.15" y="175.73" width="2.5" height="2.5"/><rect x="458.63" y="175.19" width="2.5" height="2.5"/><rect x="461.62" y="175.57" width="2.5" height="2.5"/><rect x="466.09" y="175.79" width="2.5" height="2.5"/><rect x="467.59" y="175.54" width="2.5" height="2.5"/><rect x="470.57" y="175.99" width="2.5" height="2.5"/><rect x="473.56" y="173.88" width="2.5" height="2.5"/><rect x="475.05" y="175.30" width="2.5" height="2.5"/><rect x="478.04" y="175.55" width="2.5" height="2.5"/><rect x="481.02" y="174.10" width="2.5" height="2.5"/><rect x="482.51" y="174.32" width="2.5" height="2.5"/><rect x="484.01" y="173.65" width="2.5" height="2.5"/><rect x="486.99" y="175.83" width="2.5" height="2.5"/><rect x="488.48" y="174.63" width="2.5" height="2.5"/><rect x="489.98" y="175.41" width="2.5" height="2.5"/><rect x="492.96" y="174.41" width="2.5" height="2.5"/><rect x="497.44" y="175.76" width="2.5" height="2.5"/><rect x="498.93" y="174.02" width="2.5" height="2.5"/><rect x="501.92" y="175.60" width="2.5" height="2.5"/><rect x="503.41" y="175.27" width="2.5" height="2.5"/><rect x="506.40" y="174.88" width="2.5" height="2.5"/><rect x="509.38" y="174.19" width="2.5" height="2.5"/><rect x="510.87" y="175.75" width="2.5" height="2.5"/><rect x="513.86" y="174.31" width="2.5" height="2.5"/><rect x="516.85" y="173.82" width="2.5" height="2.5"/><rect x="518.34" y="174.34" width="2.5" height="2.5"/><rect x="519.83" y="173.84" width="2.5" height="2.5"/><rect x="522.82" y="174.62" width="2.5" height="2.5"/><rect x="524.31" y="174.97" width="2.5" height="2.5"/><rect x="527.29" y="174.15" width="2.5" height="2.5"/><rect x="528.79" y="175.53" width="2.5" height="2.5"/><rect x="531.77" y="175.28" width="2.5" height="2.5"/><rect x="534.76" y="174.38" width="2.5" height="2.5"/><rect x="536.25" y="175.93" width="2.5" height="2.5"/></g>
<g fill="#000"><circle cx="323.9" cy="91.8" r="1.38"/><circle cx="330.0" cy="100.3" r="1.38"/><circle cx="325.3" cy="115.9" r="1.38"/><circle cx="326.6" cy="114.5" r="1.38"/><circle cx="328.6" cy="113.2" r="1.38"/><circle cx="331.6" cy="122.5" r="1.38"/><circle cx="334.6" cy="129.6" r="1.38"/><circle cx="336.2" cy="138.0" r="1.38"/><circle cx="362.8" cy="138.5" r="1.38"/><circle cx="357.6" cy="146.8" r="1.38"/><circle cx="358.4" cy="146.8" r="1.38"/><circle cx="353.9" cy="149.1" r="1.38"/><circle cx="360.1" cy="151.9" r="1.38"/><circle cx="351.0" cy="154.1" r="1.38"/><circle cx="322.6" cy="159.6" r="1.38"/><circle cx="333.0" cy="157.1" r="1.38"/><circle cx="337.1" cy="159.3" r="1.38"/><circle cx="338.9" cy="158.6" r="1.38"/><circle cx="343.4" cy="159.1" r="1.38"/><circle cx="346.2" cy="158.9" r="1.38"/><circle cx="348.0" cy="160.9" r="1.38"/><circle cx="349.8" cy="159.3" r="1.38"/><circle cx="355.6" cy="160.9" r="1.38"/><circle cx="361.3" cy="161.9" r="1.38"/><circle cx="340.3" cy="164.4" r="1.38"/><circle cx="341.9" cy="163.2" r="1.38"/><circle cx="352.3" cy="165.0" r="1.38"/><circle cx="344.8" cy="172.3" r="1.38"/><circle cx="367.4" cy="111.9" r="1.38"/><circle cx="372.0" cy="113.3" r="1.38"/><circle cx="370.4" cy="118.2" r="1.38"/><circle cx="416.7" cy="127.7" r="1.38"/><circle cx="375.0" cy="136.0" r="1.38"/><circle cx="394.4" cy="139.2" r="1.38"/><circle cx="412.3" cy="139.6" r="1.38"/><circle cx="400.4" cy="144.1" r="1.38"/><circle cx="378.0" cy="145.9" r="1.38"/><circle cx="388.4" cy="145.9" r="1.38"/><circle cx="392.9" cy="148.2" r="1.38"/><circle cx="368.9" cy="149.1" r="1.38"/><circle cx="389.8" cy="157.6" r="1.38"/><circle cx="398.9" cy="159.4" r="1.38"/><circle cx="406.4" cy="159.9" r="1.38"/><circle cx="405.1" cy="161.8" r="1.38"/><circle cx="364.4" cy="162.3" r="1.38"/><circle cx="365.9" cy="160.6" r="1.38"/><circle cx="373.4" cy="161.8" r="1.38"/><circle cx="386.8" cy="165.0" r="1.38"/><circle cx="379.3" cy="165.9" r="1.38"/><circle cx="382.6" cy="165.7" r="1.38"/><circle cx="376.4" cy="167.7" r="1.38"/><circle cx="395.9" cy="165.2" r="1.38"/><circle cx="401.6" cy="167.0" r="1.38"/><circle cx="403.4" cy="170.0" r="1.38"/><circle cx="405.0" cy="171.4" r="1.38"/><circle cx="409.6" cy="162.3" r="1.38"/><circle cx="390.9" cy="175.0" r="1.38"/><circle cx="384.6" cy="177.0" r="1.38"/><circle cx="397.3" cy="177.6" r="1.38"/><circle cx="407.3" cy="176.8" r="1.38"/><circle cx="415.4" cy="147.7" r="1.38"/><circle cx="454.6" cy="151.4" r="1.38"/><circle cx="410.6" cy="162.4" r="1.38"/><circle cx="413.9" cy="161.8" r="1.38"/><circle cx="419.7" cy="160.4" r="1.38"/><circle cx="431.6" cy="158.2" r="1.38"/><circle cx="428.6" cy="162.1" r="1.38"/><circle cx="437.7" cy="160.0" r="1.38"/><circle cx="439.1" cy="158.6" r="1.38"/><circle cx="440.9" cy="162.1" r="1.38"/><circle cx="448.2" cy="163.4" r="1.38"/><circle cx="442.1" cy="166.8" r="1.38"/><circle cx="435.9" cy="168.2" r="1.38"/><circle cx="451.6" cy="167.7" r="1.38"/><circle cx="453.9" cy="167.1" r="1.38"/><circle cx="450.2" cy="168.9" r="1.38"/><circle cx="424.1" cy="170.0" r="1.38"/><circle cx="420.9" cy="171.8" r="1.38"/><circle cx="422.7" cy="173.2" r="1.38"/><circle cx="429.6" cy="171.4" r="1.38"/><circle cx="434.1" cy="170.9" r="1.38"/><circle cx="433.2" cy="172.3" r="1.38"/><circle cx="408.6" cy="174.1" r="1.38"/><circle cx="425.9" cy="173.6" r="1.38"/><circle cx="445.0" cy="175.0" r="1.38"/><circle cx="418.2" cy="176.4" r="1.38"/><circle cx="455.6" cy="151.4" r="1.38"/><circle cx="458.6" cy="165.0" r="1.38"/><circle cx="457.1" cy="168.8" r="1.38"/><circle cx="461.4" cy="170.0" r="1.38"/><circle cx="463.2" cy="167.3" r="1.38"/><circle cx="470.7" cy="165.0" r="1.38"/><circle cx="474.7" cy="167.9" r="1.38"/><circle cx="471.8" cy="170.9" r="1.38"/><circle cx="473.8" cy="170.9" r="1.38"/><circle cx="466.8" cy="173.6" r="1.38"/><circle cx="465.0" cy="175.0" r="1.38"/><circle cx="476.4" cy="175.4" r="1.38"/><circle cx="480.0" cy="175.0" r="1.38"/><circle cx="482.3" cy="173.6" r="1.38"/><circle cx="486.4" cy="174.1" r="1.38"/><circle cx="488.6" cy="173.2" r="1.38"/><circle cx="492.7" cy="175.0" r="1.38"/><circle cx="497.3" cy="174.6" r="1.38"/><circle cx="499.6" cy="171.8" r="1.38"/><circle cx="469.1" cy="177.3" r="1.38"/><circle cx="484.6" cy="176.8" r="1.38"/><circle cx="490.0" cy="176.8" r="1.38"/><circle cx="527.3" cy="145.0" r="1.38"/><circle cx="502.3" cy="166.4" r="1.38"/><circle cx="503.6" cy="166.1" r="1.38"/><circle cx="510.9" cy="167.0" r="1.38"/><circle cx="512.3" cy="166.4" r="1.38"/><circle cx="500.4" cy="171.8" r="1.38"/><circle cx="509.1" cy="172.4" r="1.38"/><circle cx="516.8" cy="170.0" r="1.38"/><circle cx="519.5" cy="168.8" r="1.38"/><circle cx="515.5" cy="171.8" r="1.38"/><circle cx="521.8" cy="172.3" r="1.38"/><circle cx="524.1" cy="170.0" r="1.38"/><circle cx="525.9" cy="171.8" r="1.38"/><circle cx="505.9" cy="175.0" r="1.38"/><circle cx="518.6" cy="175.0" r="1.38"/><circle cx="530.5" cy="174.1" r="1.38"/><circle cx="536.8" cy="172.3" r="1.38"/><circle cx="427.0" cy="174.6" r="1.38"/><circle cx="443.5" cy="176.6" r="1.38"/><circle cx="446.4" cy="176.0" r="1.38"/><circle cx="449.4" cy="174.3" r="1.38"/><circle cx="452.4" cy="176.0" r="1.38"/><circle cx="459.9" cy="175.3" r="1.38"/><circle cx="465.9" cy="176.5" r="1.38"/><circle cx="477.8" cy="175.4" r="1.38"/><circle cx="480.8" cy="176.5" r="1.38"/><circle cx="483.8" cy="175.5" r="1.38"/><circle cx="491.2" cy="173.2" r="1.38"/><circle cx="494.2" cy="176.6" r="1.38"/><circle cx="495.7" cy="174.6" r="1.38"/><circle cx="498.7" cy="175.9" r="1.38"/><circle cx="504.7" cy="176.1" r="1.38"/><circle cx="507.6" cy="174.8" r="1.38"/><circle cx="513.6" cy="174.6" r="1.38"/><circle cx="522.6" cy="176.5" r="1.38"/><circle cx="528.5" cy="174.7" r="1.38"/><circle cx="531.5" cy="175.1" r="1.38"/><circle cx="533.0" cy="176.2" r="1.38"/><circle cx="534.5" cy="173.8" r="1.38"/><circle cx="536.0" cy="173.9" r="1.38"/></g>
</g>
<rect x="313.6" y="11.9" width="223.9" height="166.5" fill="none" stroke="#484848" stroke-width="1.25"/>
<path d="M313.60 178.4v3M321.06 178.4v1.6M328.53 178.4v3M335.99 178.4v1.6M343.45 178.4v3M350.92 178.4v1.6M358.38 178.4v3M365.84 178.4v1.6M373.31 178.4v3M380.77 178.4v1.6M388.23 178.4v3M395.70 178.4v1.6M403.16 178.4v3M410.62 178.4v1.6M418.09 178.4v3M425.55 178.4v1.6M433.01 178.4v3M440.48 178.4v1.6M447.94 178.4v3M455.40 178.4v1.6M462.87 178.4v3M470.33 178.4v1.6M477.79 178.4v3M485.26 178.4v1.6M492.72 178.4v3M500.18 178.4v1.6M507.65 178.4v3M515.11 178.4v1.6M522.57 178.4v3M530.04 178.4v1.6M537.50 178.4v3M313.6 178.40h-3M313.6 164.53h-1.6M313.6 150.65h-3M313.6 136.78h-1.6M313.6 122.90h-3M313.6 109.03h-1.6M313.6 95.15h-3M313.6 81.28h-1.6M313.6 67.40h-3M313.6 53.53h-1.6M313.6 39.65h-3M313.6 25.78h-1.6M313.6 11.90h-3" stroke="#2a2a2a" stroke-width="1.1" fill="none"/>
<g font-size="6.9" fill="#222" stroke="#222" stroke-width="0.14" letter-spacing="0.3"><text x="313.60" y="189.9" text-anchor="middle">0</text><text x="328.53" y="189.9" text-anchor="middle">10</text><text x="343.45" y="189.9" text-anchor="middle">20</text><text x="358.38" y="189.9" text-anchor="middle">30</text><text x="373.31" y="189.9" text-anchor="middle">40</text><text x="388.23" y="189.9" text-anchor="middle">50</text><text x="403.16" y="189.9" text-anchor="middle">60</text><text x="418.09" y="189.9" text-anchor="middle">70</text><text x="433.01" y="189.9" text-anchor="middle">80</text><text x="447.94" y="189.9" text-anchor="middle">90</text><text x="462.87" y="189.9" text-anchor="middle">100</text><text x="477.79" y="189.9" text-anchor="middle">110</text><text x="492.72" y="189.9" text-anchor="middle">120</text><text x="507.65" y="189.9" text-anchor="middle">130</text><text x="522.57" y="189.9" text-anchor="middle">140</text><text x="537.50" y="189.9" text-anchor="middle">150</text><text x="309.00" y="180.8" text-anchor="end">0</text><text x="309.00" y="153.1" text-anchor="end">10</text><text x="309.00" y="125.3" text-anchor="end">20</text><text x="309.00" y="97.6" text-anchor="end">30</text><text x="309.00" y="69.8" text-anchor="end">40</text><text x="309.00" y="42.1" text-anchor="end">50</text><text x="309.00" y="14.3" text-anchor="end">60</text></g>
<text x="425.6" y="204.2" text-anchor="middle" font-size="9.0" fill="#111" stroke="#111" stroke-width="0.18" textLength="39.6" lengthAdjust="spacingAndGlyphs">Time (day)</text>
<text transform="translate(297.3,94.8) rotate(-90)" text-anchor="middle" font-size="9.0" fill="#111" stroke="#111" stroke-width="0.18" textLength="40.1" lengthAdjust="spacingAndGlyphs">MAPE (%)</text>
<rect x="383.4" y="21.6" width="91.2" height="30.8" fill="#fff" stroke="#555" stroke-width="0.8"/>
<path d="M393.4 25.4l1.35 2.3h-2.7z" fill="#f00"/>
<text x="404.8" y="29.8" font-size="8.1" fill="#111" stroke="#111" stroke-width="0.18">MDF model</text>
<rect x="392.4" y="35.8" width="1.9" height="1.9" fill="#00f"/>
<text x="404.8" y="39.8" font-size="8.1" fill="#111" stroke="#111" stroke-width="0.18">single-feature LSTM</text>
<circle cx="393.4" cy="46.8" r="1.0" fill="#000"/>
<text x="404.8" y="49.8" font-size="8.1" fill="#111" stroke="#111" stroke-width="0.18">multi-feature LSTM</text>
<text x="413.5" y="228.9" text-anchor="middle" font-size="13.8" fill="#000" textLength="43.7" lengthAdjust="spacingAndGlyphs">(<tspan font-weight="bold">b</tspan>) CJ2</text>
<clipPath id="cpc"><rect x="25.2" y="238.1" width="236.1" height="172.6"/></clipPath><g clip-path="url(#cpc)">
<g fill="#ff0000"><path d="M40.1 265.9l1.75 3.0h-3.5z"/><path d="M41.5 297.5l1.75 3.0h-3.5z"/><path d="M42.7 361.0l1.75 3.0h-3.5z"/><path d="M45.9 364.9l1.75 3.0h-3.5z"/><path d="M51.8 382.8l1.75 3.0h-3.5z"/><path d="M59.3 381.6l1.75 3.0h-3.5z"/><path d="M47.3 389.7l1.75 3.0h-3.5z"/><path d="M50.5 392.5l1.75 3.0h-3.5z"/><path d="M53.5 394.7l1.75 3.0h-3.5z"/><path d="M55.3 397.7l1.75 3.0h-3.5z"/><path d="M56.4 396.7l1.75 3.0h-3.5z"/><path d="M60.9 397.0l1.75 3.0h-3.5z"/><path d="M71.4 395.4l1.75 3.0h-3.5z"/><path d="M44.4 399.7l1.75 3.0h-3.5z"/><path d="M48.9 399.0l1.75 3.0h-3.5z"/><path d="M58.0 402.5l1.75 3.0h-3.5z"/><path d="M63.8 402.2l1.75 3.0h-3.5z"/><path d="M62.3 405.8l1.75 3.0h-3.5z"/><path d="M79.8 397.8l1.75 3.0h-3.5z"/><path d="M77.3 405.5l1.75 3.0h-3.5z"/><path d="M72.7 407.2l1.75 3.0h-3.5z"/><path d="M84.8 395.8l1.75 3.0h-3.5z"/><path d="M91.8 400.1l1.75 3.0h-3.5z"/><path d="M93.2 401.0l1.75 3.0h-3.5z"/><path d="M94.5 401.9l1.75 3.0h-3.5z"/><path d="M89.1 401.5l1.75 3.0h-3.5z"/><path d="M98.2 402.4l1.75 3.0h-3.5z"/><path d="M104.1 401.9l1.75 3.0h-3.5z"/><path d="M111.8 394.8l1.75 3.0h-3.5z"/><path d="M122.3 400.3l1.75 3.0h-3.5z"/><path d="M83.2 406.5l1.75 3.0h-3.5z"/><path d="M86.8 403.7l1.75 3.0h-3.5z"/><path d="M95.9 404.7l1.75 3.0h-3.5z"/><path d="M100.5 404.7l1.75 3.0h-3.5z"/><path d="M106.8 407.4l1.75 3.0h-3.5z"/><path d="M110.5 406.9l1.75 3.0h-3.5z"/><path d="M116.8 403.3l1.75 3.0h-3.5z"/><path d="M118.6 405.6l1.75 3.0h-3.5z"/><path d="M161.8 397.4l1.75 3.0h-3.5z"/><path d="M154.6 403.6l1.75 3.0h-3.5z"/><path d="M131.8 404.5l1.75 3.0h-3.5z"/><path d="M133.6 405.1l1.75 3.0h-3.5z"/><path d="M169.8 402.4l1.75 3.0h-3.5z"/><path d="M120.5 405.1l1.75 3.0h-3.5z"/><path d="M129.1 407.4l1.75 3.0h-3.5z"/><path d="M142.7 407.4l1.75 3.0h-3.5z"/><path d="M150.0 406.0l1.75 3.0h-3.5z"/><path d="M158.2 407.4l1.75 3.0h-3.5z"/><path d="M166.4 407.4l1.75 3.0h-3.5z"/><path d="M175.4 404.7l1.75 3.0h-3.5z"/><path d="M182.3 405.6l1.75 3.0h-3.5z"/><path d="M185.9 405.1l1.75 3.0h-3.5z"/><path d="M191.8 406.0l1.75 3.0h-3.5z"/><path d="M200.9 407.4l1.75 3.0h-3.5z"/><path d="M208.6 405.1l1.75 3.0h-3.5z"/><path d="M212.3 407.4l1.75 3.0h-3.5z"/><path d="M215.4 405.1l1.75 3.0h-3.5z"/><path d="M225.4 405.6l1.75 3.0h-3.5z"/><path d="M230.0 407.4l1.75 3.0h-3.5z"/><path d="M241.8 407.4l1.75 3.0h-3.5z"/><path d="M248.2 405.6l1.75 3.0h-3.5z"/><path d="M252.7 403.7l1.75 3.0h-3.5z"/><path d="M220.9 407.4l1.75 3.0h-3.5z"/><path d="M235.4 407.4l1.75 3.0h-3.5z"/><path d="M65.6 408.0l1.75 3.0h-3.5z"/><path d="M67.1 407.5l1.75 3.0h-3.5z"/><path d="M68.6 406.8l1.75 3.0h-3.5z"/><path d="M70.0 407.5l1.75 3.0h-3.5z"/><path d="M74.5 407.8l1.75 3.0h-3.5z"/><path d="M76.0 407.1l1.75 3.0h-3.5z"/><path d="M79.0 407.7l1.75 3.0h-3.5z"/><path d="M82.0 407.3l1.75 3.0h-3.5z"/><path d="M88.0 407.8l1.75 3.0h-3.5z"/><path d="M91.0 407.0l1.75 3.0h-3.5z"/><path d="M96.9 408.1l1.75 3.0h-3.5z"/><path d="M101.4 407.7l1.75 3.0h-3.5z"/><path d="M102.9 406.7l1.75 3.0h-3.5z"/><path d="M105.9 408.1l1.75 3.0h-3.5z"/><path d="M108.9 407.6l1.75 3.0h-3.5z"/><path d="M113.4 407.9l1.75 3.0h-3.5z"/><path d="M114.9 407.6l1.75 3.0h-3.5z"/><path d="M117.9 407.3l1.75 3.0h-3.5z"/><path d="M123.8 406.6l1.75 3.0h-3.5z"/><path d="M125.3 406.6l1.75 3.0h-3.5z"/><path d="M126.8 407.7l1.75 3.0h-3.5z"/><path d="M128.3 407.0l1.75 3.0h-3.5z"/><path d="M132.8 407.5l1.75 3.0h-3.5z"/><path d="M135.8 408.1l1.75 3.0h-3.5z"/><path d="M137.3 407.8l1.75 3.0h-3.5z"/><path d="M138.8 407.7l1.75 3.0h-3.5z"/><path d="M140.3 407.6l1.75 3.0h-3.5z"/><path d="M141.8 406.6l1.75 3.0h-3.5z"/><path d="M144.7 406.9l1.75 3.0h-3.5z"/><path d="M146.2 408.1l1.75 3.0h-3.5z"/><path d="M147.7 407.3l1.75 3.0h-3.5z"/><path d="M149.2 407.7l1.75 3.0h-3.5z"/><path d="M152.2 407.8l1.75 3.0h-3.5z"/><path d="M153.7 406.8l1.75 3.0h-3.5z"/><path d="M156.7 408.1l1.75 3.0h-3.5z"/><path d="M159.7 407.0l1.75 3.0h-3.5z"/><path d="M162.7 406.7l1.75 3.0h-3.5z"/><path d="M164.2 408.2l1.75 3.0h-3.5z"/><path d="M167.2 407.7l1.75 3.0h-3.5z"/><path d="M168.6 406.9l1.75 3.0h-3.5z"/><path d="M171.6 408.1l1.75 3.0h-3.5z"/><path d="M173.1 407.6l1.75 3.0h-3.5z"/><path d="M174.6 407.8l1.75 3.0h-3.5z"/><path d="M177.6 406.7l1.75 3.0h-3.5z"/><path d="M179.1 406.9l1.75 3.0h-3.5z"/><path d="M180.6 407.0l1.75 3.0h-3.5z"/><path d="M183.6 407.8l1.75 3.0h-3.5z"/><path d="M185.1 408.0l1.75 3.0h-3.5z"/><path d="M188.1 406.7l1.75 3.0h-3.5z"/><path d="M189.6 407.8l1.75 3.0h-3.5z"/><path d="M191.1 407.9l1.75 3.0h-3.5z"/><path d="M194.0 408.1l1.75 3.0h-3.5z"/><path d="M195.5 406.9l1.75 3.0h-3.5z"/><path d="M197.0 407.5l1.75 3.0h-3.5z"/><path d="M198.5 407.9l1.75 3.0h-3.5z"/><path d="M200.0 408.2l1.75 3.0h-3.5z"/><path d="M203.0 407.5l1.75 3.0h-3.5z"/><path d="M204.5 408.2l1.75 3.0h-3.5z"/><path d="M206.0 408.2l1.75 3.0h-3.5z"/><path d="M207.5 407.4l1.75 3.0h-3.5z"/><path d="M210.5 407.3l1.75 3.0h-3.5z"/><path d="M213.5 407.3l1.75 3.0h-3.5z"/><path d="M216.5 406.7l1.75 3.0h-3.5z"/><path d="M218.0 408.1l1.75 3.0h-3.5z"/><path d="M219.4 408.1l1.75 3.0h-3.5z"/><path d="M222.4 408.1l1.75 3.0h-3.5z"/><path d="M223.9 407.2l1.75 3.0h-3.5z"/><path d="M226.9 407.1l1.75 3.0h-3.5z"/><path d="M228.4 407.8l1.75 3.0h-3.5z"/><path d="M231.4 407.3l1.75 3.0h-3.5z"/><path d="M232.9 408.1l1.75 3.0h-3.5z"/><path d="M234.4 408.0l1.75 3.0h-3.5z"/><path d="M237.4 407.8l1.75 3.0h-3.5z"/><path d="M238.9 408.0l1.75 3.0h-3.5z"/><path d="M240.4 407.8l1.75 3.0h-3.5z"/><path d="M243.3 407.7l1.75 3.0h-3.5z"/><path d="M244.8 407.5l1.75 3.0h-3.5z"/><path d="M246.3 406.8l1.75 3.0h-3.5z"/><path d="M249.3 407.0l1.75 3.0h-3.5z"/><path d="M250.8 406.9l1.75 3.0h-3.5z"/><path d="M253.8 408.0l1.75 3.0h-3.5z"/><path d="M255.3 406.9l1.75 3.0h-3.5z"/></g>
<g fill="#0000ff"><rect x="41.81" y="253.24" width="2.5" height="2.5"/><rect x="38.81" y="264.87" width="2.5" height="2.5"/><rect x="44.82" y="296.22" width="2.5" height="2.5"/><rect x="46.30" y="350.75" width="2.5" height="2.5"/><rect x="47.84" y="354.93" width="2.5" height="2.5"/><rect x="40.39" y="357.66" width="2.5" height="2.5"/><rect x="43.30" y="361.93" width="2.5" height="2.5"/><rect x="50.75" y="365.84" width="2.5" height="2.5"/><rect x="58.02" y="366.75" width="2.5" height="2.5"/><rect x="49.20" y="386.20" width="2.5" height="2.5"/><rect x="52.57" y="385.30" width="2.5" height="2.5"/><rect x="61.02" y="395.57" width="2.5" height="2.5"/><rect x="56.02" y="397.84" width="2.5" height="2.5"/><rect x="59.66" y="401.48" width="2.5" height="2.5"/><rect x="62.84" y="401.30" width="2.5" height="2.5"/><rect x="55.11" y="402.57" width="2.5" height="2.5"/><rect x="71.66" y="402.57" width="2.5" height="2.5"/><rect x="53.75" y="405.57" width="2.5" height="2.5"/><rect x="76.25" y="403.71" width="2.5" height="2.5"/><rect x="77.62" y="404.07" width="2.5" height="2.5"/><rect x="65.11" y="406.48" width="2.5" height="2.5"/><rect x="67.84" y="406.02" width="2.5" height="2.5"/><rect x="70.57" y="406.93" width="2.5" height="2.5"/><rect x="74.20" y="407.93" width="2.5" height="2.5"/><rect x="85.11" y="391.66" width="2.5" height="2.5"/><rect x="110.57" y="390.30" width="2.5" height="2.5"/><rect x="87.84" y="397.30" width="2.5" height="2.5"/><rect x="80.57" y="398.48" width="2.5" height="2.5"/><rect x="116.30" y="397.57" width="2.5" height="2.5"/><rect x="111.93" y="399.39" width="2.5" height="2.5"/><rect x="78.75" y="401.66" width="2.5" height="2.5"/><rect x="82.39" y="402.75" width="2.5" height="2.5"/><rect x="84.20" y="402.75" width="2.5" height="2.5"/><rect x="89.93" y="403.48" width="2.5" height="2.5"/><rect x="86.48" y="405.75" width="2.5" height="2.5"/><rect x="108.75" y="403.48" width="2.5" height="2.5"/><rect x="118.30" y="403.02" width="2.5" height="2.5"/><rect x="119.88" y="402.34" width="2.5" height="2.5"/><rect x="92.39" y="405.75" width="2.5" height="2.5"/><rect x="96.02" y="407.57" width="2.5" height="2.5"/><rect x="100.11" y="407.11" width="2.5" height="2.5"/><rect x="103.75" y="406.66" width="2.5" height="2.5"/><rect x="107.39" y="406.20" width="2.5" height="2.5"/><rect x="113.75" y="405.30" width="2.5" height="2.5"/><rect x="121.25" y="406.43" width="2.5" height="2.5"/><rect x="131.48" y="397.84" width="2.5" height="2.5"/><rect x="130.11" y="400.30" width="2.5" height="2.5"/><rect x="132.84" y="401.48" width="2.5" height="2.5"/><rect x="126.75" y="400.75" width="2.5" height="2.5"/><rect x="151.66" y="398.02" width="2.5" height="2.5"/><rect x="153.75" y="398.75" width="2.5" height="2.5"/><rect x="159.84" y="397.11" width="2.5" height="2.5"/><rect x="144.93" y="402.75" width="2.5" height="2.5"/><rect x="162.84" y="402.75" width="2.5" height="2.5"/><rect x="155.57" y="405.11" width="2.5" height="2.5"/><rect x="158.75" y="405.75" width="2.5" height="2.5"/><rect x="161.48" y="406.20" width="2.5" height="2.5"/><rect x="166.25" y="406.66" width="2.5" height="2.5"/><rect x="125.11" y="405.75" width="2.5" height="2.5"/><rect x="135.11" y="407.57" width="2.5" height="2.5"/><rect x="141.48" y="406.20" width="2.5" height="2.5"/><rect x="146.93" y="407.11" width="2.5" height="2.5"/><rect x="180.57" y="400.57" width="2.5" height="2.5"/><rect x="164.20" y="403.48" width="2.5" height="2.5"/><rect x="171.93" y="404.39" width="2.5" height="2.5"/><rect x="186.48" y="405.75" width="2.5" height="2.5"/><rect x="175.57" y="407.57" width="2.5" height="2.5"/><rect x="181.93" y="408.02" width="2.5" height="2.5"/><rect x="193.75" y="405.75" width="2.5" height="2.5"/><rect x="197.39" y="406.20" width="2.5" height="2.5"/><rect x="201.93" y="407.11" width="2.5" height="2.5"/><rect x="205.57" y="406.66" width="2.5" height="2.5"/><rect x="211.02" y="405.75" width="2.5" height="2.5"/><rect x="213.30" y="406.65" width="2.5" height="2.5"/><rect x="217.84" y="405.30" width="2.5" height="2.5"/><rect x="209.66" y="406.20" width="2.5" height="2.5"/><rect x="221.48" y="406.66" width="2.5" height="2.5"/><rect x="232.39" y="407.57" width="2.5" height="2.5"/><rect x="237.84" y="407.11" width="2.5" height="2.5"/><rect x="245.11" y="407.11" width="2.5" height="2.5"/><rect x="252.39" y="407.57" width="2.5" height="2.5"/><rect x="226.93" y="407.30" width="2.5" height="2.5"/><rect x="241.48" y="407.57" width="2.5" height="2.5"/><rect x="64.31" y="407.09" width="2.5" height="2.5"/><rect x="68.79" y="405.77" width="2.5" height="2.5"/><rect x="73.28" y="406.50" width="2.5" height="2.5"/><rect x="91.20" y="406.34" width="2.5" height="2.5"/><rect x="94.19" y="406.58" width="2.5" height="2.5"/><rect x="97.18" y="407.99" width="2.5" height="2.5"/><rect x="98.67" y="407.30" width="2.5" height="2.5"/><rect x="101.66" y="407.60" width="2.5" height="2.5"/><rect x="104.65" y="407.38" width="2.5" height="2.5"/><rect x="106.14" y="406.15" width="2.5" height="2.5"/><rect x="115.11" y="407.05" width="2.5" height="2.5"/><rect x="122.58" y="407.70" width="2.5" height="2.5"/><rect x="124.07" y="406.05" width="2.5" height="2.5"/><rect x="128.55" y="407.33" width="2.5" height="2.5"/><rect x="136.02" y="407.77" width="2.5" height="2.5"/><rect x="137.52" y="407.10" width="2.5" height="2.5"/><rect x="139.01" y="407.16" width="2.5" height="2.5"/><rect x="140.51" y="406.69" width="2.5" height="2.5"/><rect x="143.49" y="406.41" width="2.5" height="2.5"/><rect x="147.98" y="406.09" width="2.5" height="2.5"/><rect x="149.47" y="406.58" width="2.5" height="2.5"/><rect x="152.46" y="406.85" width="2.5" height="2.5"/><rect x="156.94" y="407.28" width="2.5" height="2.5"/><rect x="167.40" y="406.37" width="2.5" height="2.5"/><rect x="168.89" y="406.23" width="2.5" height="2.5"/><rect x="170.39" y="405.80" width="2.5" height="2.5"/><rect x="173.37" y="406.40" width="2.5" height="2.5"/><rect x="176.36" y="405.87" width="2.5" height="2.5"/><rect x="177.86" y="407.98" width="2.5" height="2.5"/><rect x="179.35" y="407.25" width="2.5" height="2.5"/><rect x="183.83" y="407.26" width="2.5" height="2.5"/><rect x="185.33" y="406.39" width="2.5" height="2.5"/><rect x="188.31" y="405.94" width="2.5" height="2.5"/><rect x="189.81" y="406.50" width="2.5" height="2.5"/><rect x="191.30" y="407.39" width="2.5" height="2.5"/><rect x="192.80" y="406.56" width="2.5" height="2.5"/><rect x="195.78" y="407.55" width="2.5" height="2.5"/><rect x="198.77" y="406.71" width="2.5" height="2.5"/><rect x="200.27" y="407.96" width="2.5" height="2.5"/><rect x="203.25" y="406.02" width="2.5" height="2.5"/><rect x="204.75" y="405.65" width="2.5" height="2.5"/><rect x="207.74" y="407.56" width="2.5" height="2.5"/><rect x="212.22" y="406.39" width="2.5" height="2.5"/><rect x="215.21" y="407.89" width="2.5" height="2.5"/><rect x="216.70" y="407.77" width="2.5" height="2.5"/><rect x="219.69" y="406.55" width="2.5" height="2.5"/><rect x="222.68" y="407.88" width="2.5" height="2.5"/><rect x="224.17" y="407.01" width="2.5" height="2.5"/><rect x="225.66" y="406.90" width="2.5" height="2.5"/><rect x="228.65" y="406.08" width="2.5" height="2.5"/><rect x="230.15" y="405.78" width="2.5" height="2.5"/><rect x="234.63" y="406.87" width="2.5" height="2.5"/><rect x="236.12" y="407.96" width="2.5" height="2.5"/><rect x="239.11" y="407.22" width="2.5" height="2.5"/><rect x="240.60" y="407.66" width="2.5" height="2.5"/><rect x="243.59" y="406.77" width="2.5" height="2.5"/><rect x="246.58" y="407.23" width="2.5" height="2.5"/><rect x="248.07" y="407.25" width="2.5" height="2.5"/><rect x="249.57" y="406.76" width="2.5" height="2.5"/><rect x="251.06" y="407.04" width="2.5" height="2.5"/><rect x="254.05" y="407.78" width="2.5" height="2.5"/></g>
<g fill="#000"><circle cx="41.5" cy="306.7" r="1.38"/><circle cx="47.5" cy="339.4" r="1.38"/><circle cx="44.5" cy="344.6" r="1.38"/><circle cx="46.2" cy="344.1" r="1.38"/><circle cx="43.0" cy="354.7" r="1.38"/><circle cx="40.0" cy="372.9" r="1.38"/><circle cx="48.9" cy="380.2" r="1.38"/><circle cx="51.8" cy="381.4" r="1.38"/><circle cx="53.5" cy="382.7" r="1.38"/><circle cx="55.0" cy="378.6" r="1.38"/><circle cx="56.5" cy="376.8" r="1.38"/><circle cx="74.4" cy="377.1" r="1.38"/><circle cx="79.0" cy="382.1" r="1.38"/><circle cx="69.8" cy="385.3" r="1.38"/><circle cx="72.9" cy="386.8" r="1.38"/><circle cx="71.4" cy="389.3" r="1.38"/><circle cx="75.9" cy="389.1" r="1.38"/><circle cx="77.5" cy="390.1" r="1.38"/><circle cx="66.8" cy="391.4" r="1.38"/><circle cx="68.0" cy="392.7" r="1.38"/><circle cx="58.0" cy="395.0" r="1.38"/><circle cx="63.8" cy="395.9" r="1.38"/><circle cx="62.5" cy="397.3" r="1.38"/><circle cx="59.1" cy="399.3" r="1.38"/><circle cx="60.0" cy="399.1" r="1.38"/><circle cx="65.3" cy="400.9" r="1.38"/><circle cx="79.5" cy="393.6" r="1.38"/><circle cx="50.5" cy="409.1" r="1.38"/><circle cx="61.4" cy="409.6" r="1.38"/><circle cx="84.8" cy="331.6" r="1.38"/><circle cx="89.4" cy="334.8" r="1.38"/><circle cx="87.9" cy="343.6" r="1.38"/><circle cx="92.3" cy="365.4" r="1.38"/><circle cx="86.4" cy="370.6" r="1.38"/><circle cx="83.4" cy="374.3" r="1.38"/><circle cx="75.5" cy="377.0" r="1.38"/><circle cx="81.8" cy="380.9" r="1.38"/><circle cx="90.9" cy="381.1" r="1.38"/><circle cx="98.5" cy="385.4" r="1.38"/><circle cx="99.7" cy="386.4" r="1.38"/><circle cx="101.4" cy="387.9" r="1.38"/><circle cx="102.7" cy="390.6" r="1.38"/><circle cx="105.9" cy="386.1" r="1.38"/><circle cx="95.2" cy="388.4" r="1.38"/><circle cx="80.5" cy="393.8" r="1.38"/><circle cx="110.0" cy="391.3" r="1.38"/><circle cx="117.7" cy="389.3" r="1.38"/><circle cx="119.1" cy="390.6" r="1.38"/><circle cx="122.3" cy="395.1" r="1.38"/><circle cx="124.0" cy="395.8" r="1.38"/><circle cx="93.6" cy="398.2" r="1.38"/><circle cx="96.8" cy="400.0" r="1.38"/><circle cx="106.8" cy="399.1" r="1.38"/><circle cx="108.6" cy="399.3" r="1.38"/><circle cx="114.8" cy="397.9" r="1.38"/><circle cx="104.1" cy="400.9" r="1.38"/><circle cx="111.8" cy="402.0" r="1.38"/><circle cx="116.4" cy="400.9" r="1.38"/><circle cx="113.2" cy="409.3" r="1.38"/><circle cx="121.4" cy="409.3" r="1.38"/><circle cx="134.1" cy="351.2" r="1.38"/><circle cx="132.7" cy="385.8" r="1.38"/><circle cx="155.0" cy="383.6" r="1.38"/><circle cx="161.1" cy="382.9" r="1.38"/><circle cx="167.1" cy="382.2" r="1.38"/><circle cx="165.4" cy="389.3" r="1.38"/><circle cx="162.6" cy="392.9" r="1.38"/><circle cx="169.8" cy="391.6" r="1.38"/><circle cx="120.5" cy="390.9" r="1.38"/><circle cx="135.6" cy="395.2" r="1.38"/><circle cx="137.1" cy="398.4" r="1.38"/><circle cx="141.6" cy="397.6" r="1.38"/><circle cx="144.7" cy="397.4" r="1.38"/><circle cx="153.6" cy="395.8" r="1.38"/><circle cx="128.2" cy="399.1" r="1.38"/><circle cx="130.9" cy="398.8" r="1.38"/><circle cx="140.0" cy="400.9" r="1.38"/><circle cx="148.9" cy="402.0" r="1.38"/><circle cx="150.0" cy="403.4" r="1.38"/><circle cx="157.7" cy="401.1" r="1.38"/><circle cx="159.6" cy="400.9" r="1.38"/><circle cx="156.4" cy="402.9" r="1.38"/><circle cx="125.9" cy="404.3" r="1.38"/><circle cx="124.5" cy="405.6" r="1.38"/><circle cx="129.6" cy="407.0" r="1.38"/><circle cx="138.2" cy="407.4" r="1.38"/><circle cx="145.4" cy="406.6" r="1.38"/><circle cx="151.8" cy="409.3" r="1.38"/><circle cx="163.6" cy="406.6" r="1.38"/><circle cx="175.9" cy="391.8" r="1.38"/><circle cx="187.9" cy="392.0" r="1.38"/><circle cx="171.4" cy="399.1" r="1.38"/><circle cx="198.4" cy="397.0" r="1.38"/><circle cx="203.0" cy="398.2" r="1.38"/><circle cx="205.9" cy="401.6" r="1.38"/><circle cx="211.8" cy="401.6" r="1.38"/><circle cx="214.8" cy="397.0" r="1.38"/><circle cx="181.8" cy="403.8" r="1.38"/><circle cx="185.0" cy="402.9" r="1.38"/><circle cx="186.4" cy="404.6" r="1.38"/><circle cx="189.4" cy="402.9" r="1.38"/><circle cx="178.6" cy="404.7" r="1.38"/><circle cx="174.1" cy="404.7" r="1.38"/><circle cx="191.4" cy="406.6" r="1.38"/><circle cx="193.2" cy="406.1" r="1.38"/><circle cx="196.8" cy="405.2" r="1.38"/><circle cx="204.1" cy="407.0" r="1.38"/><circle cx="209.1" cy="404.7" r="1.38"/><circle cx="210.4" cy="405.4" r="1.38"/><circle cx="229.8" cy="390.2" r="1.38"/><circle cx="244.7" cy="388.4" r="1.38"/><circle cx="246.2" cy="395.4" r="1.38"/><circle cx="247.7" cy="400.2" r="1.38"/><circle cx="223.8" cy="397.9" r="1.38"/><circle cx="220.9" cy="403.4" r="1.38"/><circle cx="222.3" cy="402.0" r="1.38"/><circle cx="235.9" cy="401.8" r="1.38"/><circle cx="240.2" cy="401.8" r="1.38"/><circle cx="254.1" cy="403.8" r="1.38"/><circle cx="227.3" cy="406.6" r="1.38"/><circle cx="228.6" cy="405.2" r="1.38"/><circle cx="231.4" cy="405.6" r="1.38"/><circle cx="232.7" cy="404.0" r="1.38"/><circle cx="237.3" cy="407.0" r="1.38"/><circle cx="243.2" cy="407.0" r="1.38"/><circle cx="249.1" cy="407.0" r="1.38"/><circle cx="250.9" cy="406.6" r="1.38"/><circle cx="217.3" cy="409.3" r="1.38"/><circle cx="126.8" cy="405.9" r="1.38"/><circle cx="143.2" cy="407.7" r="1.38"/><circle cx="146.2" cy="408.4" r="1.38"/><circle cx="147.7" cy="407.5" r="1.38"/><circle cx="168.6" cy="406.2" r="1.38"/><circle cx="173.1" cy="407.8" r="1.38"/><circle cx="177.6" cy="408.8" r="1.38"/><circle cx="180.6" cy="406.8" r="1.38"/><circle cx="183.6" cy="406.1" r="1.38"/><circle cx="194.0" cy="406.8" r="1.38"/><circle cx="195.5" cy="407.4" r="1.38"/><circle cx="200.0" cy="408.2" r="1.38"/><circle cx="201.5" cy="408.8" r="1.38"/><circle cx="207.5" cy="406.8" r="1.38"/><circle cx="213.5" cy="408.5" r="1.38"/><circle cx="216.5" cy="405.6" r="1.38"/><circle cx="219.4" cy="407.7" r="1.38"/><circle cx="225.4" cy="407.2" r="1.38"/><circle cx="234.4" cy="408.5" r="1.38"/><circle cx="238.9" cy="407.0" r="1.38"/><circle cx="241.9" cy="407.3" r="1.38"/><circle cx="252.3" cy="406.3" r="1.38"/><circle cx="255.3" cy="405.5" r="1.38"/></g>
</g>
<rect x="31.2" y="244.1" width="224.1" height="166.3" fill="none" stroke="#484848" stroke-width="1.25"/>
<path d="M31.20 410.4v3M38.67 410.4v1.6M46.14 410.4v3M53.61 410.4v1.6M61.08 410.4v3M68.55 410.4v1.6M76.02 410.4v3M83.49 410.4v1.6M90.96 410.4v3M98.43 410.4v1.6M105.90 410.4v3M113.37 410.4v1.6M120.84 410.4v3M128.31 410.4v1.6M135.78 410.4v3M143.25 410.4v1.6M150.72 410.4v3M158.19 410.4v1.6M165.66 410.4v3M173.13 410.4v1.6M180.60 410.4v3M188.07 410.4v1.6M195.54 410.4v3M203.01 410.4v1.6M210.48 410.4v3M217.95 410.4v1.6M225.42 410.4v3M232.89 410.4v1.6M240.36 410.4v3M247.83 410.4v1.6M255.30 410.4v3M31.2 410.40h-3M31.2 396.54h-1.6M31.2 382.68h-3M31.2 368.82h-1.6M31.2 354.97h-3M31.2 341.11h-1.6M31.2 327.25h-3M31.2 313.39h-1.6M31.2 299.53h-3M31.2 285.67h-1.6M31.2 271.82h-3M31.2 257.96h-1.6M31.2 244.10h-3" stroke="#2a2a2a" stroke-width="1.1" fill="none"/>
<g font-size="6.9" fill="#222" stroke="#222" stroke-width="0.14" letter-spacing="0.3"><text x="31.20" y="421.9" text-anchor="middle">0</text><text x="46.14" y="421.9" text-anchor="middle">10</text><text x="61.08" y="421.9" text-anchor="middle">20</text><text x="76.02" y="421.9" text-anchor="middle">30</text><text x="90.96" y="421.9" text-anchor="middle">40</text><text x="105.90" y="421.9" text-anchor="middle">50</text><text x="120.84" y="421.9" text-anchor="middle">60</text><text x="135.78" y="421.9" text-anchor="middle">70</text><text x="150.72" y="421.9" text-anchor="middle">80</text><text x="165.66" y="421.9" text-anchor="middle">90</text><text x="180.60" y="421.9" text-anchor="middle">100</text><text x="195.54" y="421.9" text-anchor="middle">110</text><text x="210.48" y="421.9" text-anchor="middle">120</text><text x="225.42" y="421.9" text-anchor="middle">130</text><text x="240.36" y="421.9" text-anchor="middle">140</text><text x="255.30" y="421.9" text-anchor="middle">150</text><text x="26.60" y="412.8" text-anchor="end">0</text><text x="26.60" y="385.1" text-anchor="end">10</text><text x="26.60" y="357.4" text-anchor="end">20</text><text x="26.60" y="329.6" text-anchor="end">30</text><text x="26.60" y="301.9" text-anchor="end">40</text><text x="26.60" y="274.2" text-anchor="end">50</text><text x="26.60" y="246.5" text-anchor="end">60</text></g>
<text x="143.2" y="436.2" text-anchor="middle" font-size="9.0" fill="#111" stroke="#111" stroke-width="0.18" textLength="39.6" lengthAdjust="spacingAndGlyphs">Time (day)</text>
<text transform="translate(13.9,326.9) rotate(-90)" text-anchor="middle" font-size="9.0" fill="#111" stroke="#111" stroke-width="0.18" textLength="40.1" lengthAdjust="spacingAndGlyphs">MAPE (%)</text>
<rect x="101.0" y="253.4" width="91.4" height="31.2" fill="#fff" stroke="#555" stroke-width="0.8"/>
<path d="M111.0 257.2l1.35 2.3h-2.7z" fill="#f00"/>
<text x="122.4" y="261.6" font-size="8.1" fill="#111" stroke="#111" stroke-width="0.18">MDF model</text>
<rect x="110.0" y="267.7" width="1.9" height="1.9" fill="#00f"/>
<text x="122.4" y="271.6" font-size="8.1" fill="#111" stroke="#111" stroke-width="0.18">single-feature LSTM</text>
<circle cx="111.0" cy="278.6" r="1.0" fill="#000"/>
<text x="122.4" y="281.6" font-size="8.1" fill="#111" stroke="#111" stroke-width="0.18">multi-feature LSTM</text>
<text x="130.5" y="460.9" text-anchor="middle" font-size="13.8" fill="#000" textLength="41.3" lengthAdjust="spacingAndGlyphs">(<tspan font-weight="bold">c</tspan>) CJ3</text>
<clipPath id="cpd"><rect x="307.6" y="238.1" width="235.9" height="172.5"/></clipPath><g clip-path="url(#cpd)">
<g fill="#ff0000"><path d="M322.4 254.4l1.75 3.0h-3.5z"/><path d="M324.1 294.4l1.75 3.0h-3.5z"/><path d="M325.3 347.7l1.75 3.0h-3.5z"/><path d="M328.6 357.9l1.75 3.0h-3.5z"/><path d="M342.1 379.4l1.75 3.0h-3.5z"/><path d="M329.8 389.0l1.75 3.0h-3.5z"/><path d="M332.8 391.7l1.75 3.0h-3.5z"/><path d="M335.9 392.4l1.75 3.0h-3.5z"/><path d="M337.4 394.8l1.75 3.0h-3.5z"/><path d="M331.6 397.8l1.75 3.0h-3.5z"/><path d="M339.4 398.1l1.75 3.0h-3.5z"/><path d="M343.7 396.3l1.75 3.0h-3.5z"/><path d="M346.2 400.1l1.75 3.0h-3.5z"/><path d="M353.9 395.1l1.75 3.0h-3.5z"/><path d="M340.7 402.1l1.75 3.0h-3.5z"/><path d="M327.1 404.2l1.75 3.0h-3.5z"/><path d="M360.6 405.0l1.75 3.0h-3.5z"/><path d="M350.3 403.7l1.75 3.0h-3.5z"/><path d="M354.8 406.9l1.75 3.0h-3.5z"/><path d="M344.8 407.8l1.75 3.0h-3.5z"/><path d="M394.4 390.1l1.75 3.0h-3.5z"/><path d="M375.0 400.1l1.75 3.0h-3.5z"/><path d="M369.1 403.6l1.75 3.0h-3.5z"/><path d="M370.9 404.2l1.75 3.0h-3.5z"/><path d="M385.4 402.7l1.75 3.0h-3.5z"/><path d="M386.8 402.1l1.75 3.0h-3.5z"/><path d="M395.9 403.7l1.75 3.0h-3.5z"/><path d="M400.0 400.1l1.75 3.0h-3.5z"/><path d="M405.4 401.0l1.75 3.0h-3.5z"/><path d="M365.4 406.5l1.75 3.0h-3.5z"/><path d="M380.9 406.9l1.75 3.0h-3.5z"/><path d="M390.9 407.4l1.75 3.0h-3.5z"/><path d="M398.2 407.4l1.75 3.0h-3.5z"/><path d="M419.7 402.1l1.75 3.0h-3.5z"/><path d="M414.1 403.6l1.75 3.0h-3.5z"/><path d="M452.4 402.7l1.75 3.0h-3.5z"/><path d="M427.7 405.1l1.75 3.0h-3.5z"/><path d="M437.3 406.5l1.75 3.0h-3.5z"/><path d="M440.0 407.4l1.75 3.0h-3.5z"/><path d="M410.4 407.4l1.75 3.0h-3.5z"/><path d="M416.8 407.4l1.75 3.0h-3.5z"/><path d="M464.1 404.2l1.75 3.0h-3.5z"/><path d="M465.9 405.1l1.75 3.0h-3.5z"/><path d="M490.0 406.0l1.75 3.0h-3.5z"/><path d="M495.0 407.4l1.75 3.0h-3.5z"/><path d="M458.2 407.4l1.75 3.0h-3.5z"/><path d="M477.3 406.9l1.75 3.0h-3.5z"/><path d="M496.0 407.1l1.75 3.0h-3.5z"/><path d="M504.4 407.6l1.75 3.0h-3.5z"/><path d="M510.7 407.6l1.75 3.0h-3.5z"/><path d="M520.1 407.1l1.75 3.0h-3.5z"/><path d="M531.6 407.9l1.75 3.0h-3.5z"/><path d="M347.9 407.8l1.75 3.0h-3.5z"/><path d="M349.4 407.4l1.75 3.0h-3.5z"/><path d="M352.4 407.0l1.75 3.0h-3.5z"/><path d="M356.9 407.8l1.75 3.0h-3.5z"/><path d="M358.4 406.7l1.75 3.0h-3.5z"/><path d="M361.4 407.7l1.75 3.0h-3.5z"/><path d="M362.9 407.9l1.75 3.0h-3.5z"/><path d="M364.4 407.4l1.75 3.0h-3.5z"/><path d="M367.3 407.6l1.75 3.0h-3.5z"/><path d="M371.8 406.9l1.75 3.0h-3.5z"/><path d="M373.3 406.6l1.75 3.0h-3.5z"/><path d="M376.3 406.5l1.75 3.0h-3.5z"/><path d="M377.8 407.0l1.75 3.0h-3.5z"/><path d="M379.3 407.3l1.75 3.0h-3.5z"/><path d="M382.3 406.6l1.75 3.0h-3.5z"/><path d="M383.8 407.2l1.75 3.0h-3.5z"/><path d="M388.2 407.9l1.75 3.0h-3.5z"/><path d="M389.7 407.8l1.75 3.0h-3.5z"/><path d="M392.7 406.7l1.75 3.0h-3.5z"/><path d="M397.2 408.1l1.75 3.0h-3.5z"/><path d="M401.7 407.1l1.75 3.0h-3.5z"/><path d="M403.2 407.5l1.75 3.0h-3.5z"/><path d="M404.7 407.7l1.75 3.0h-3.5z"/><path d="M407.6 407.9l1.75 3.0h-3.5z"/><path d="M409.1 407.7l1.75 3.0h-3.5z"/><path d="M412.1 407.4l1.75 3.0h-3.5z"/><path d="M415.1 407.9l1.75 3.0h-3.5z"/><path d="M418.1 406.5l1.75 3.0h-3.5z"/><path d="M421.1 407.5l1.75 3.0h-3.5z"/><path d="M422.6 407.3l1.75 3.0h-3.5z"/><path d="M424.1 406.9l1.75 3.0h-3.5z"/><path d="M425.6 407.2l1.75 3.0h-3.5z"/><path d="M428.5 407.1l1.75 3.0h-3.5z"/><path d="M430.0 406.7l1.75 3.0h-3.5z"/><path d="M431.5 406.9l1.75 3.0h-3.5z"/><path d="M433.0 406.7l1.75 3.0h-3.5z"/><path d="M434.5 406.8l1.75 3.0h-3.5z"/><path d="M436.0 407.0l1.75 3.0h-3.5z"/><path d="M439.0 407.3l1.75 3.0h-3.5z"/><path d="M442.0 408.1l1.75 3.0h-3.5z"/><path d="M443.5 407.0l1.75 3.0h-3.5z"/><path d="M445.0 407.3l1.75 3.0h-3.5z"/><path d="M446.4 407.7l1.75 3.0h-3.5z"/><path d="M447.9 407.9l1.75 3.0h-3.5z"/><path d="M449.4 407.1l1.75 3.0h-3.5z"/><path d="M450.9 407.2l1.75 3.0h-3.5z"/><path d="M453.9 408.1l1.75 3.0h-3.5z"/><path d="M455.4 407.3l1.75 3.0h-3.5z"/><path d="M456.9 407.8l1.75 3.0h-3.5z"/><path d="M459.9 407.6l1.75 3.0h-3.5z"/><path d="M461.4 406.7l1.75 3.0h-3.5z"/><path d="M462.9 408.1l1.75 3.0h-3.5z"/><path d="M467.3 406.9l1.75 3.0h-3.5z"/><path d="M468.8 407.5l1.75 3.0h-3.5z"/><path d="M470.3 407.9l1.75 3.0h-3.5z"/><path d="M471.8 408.0l1.75 3.0h-3.5z"/><path d="M473.3 406.6l1.75 3.0h-3.5z"/><path d="M474.8 407.5l1.75 3.0h-3.5z"/><path d="M476.3 407.1l1.75 3.0h-3.5z"/><path d="M479.3 406.9l1.75 3.0h-3.5z"/><path d="M480.8 406.9l1.75 3.0h-3.5z"/><path d="M482.3 408.0l1.75 3.0h-3.5z"/><path d="M483.8 407.7l1.75 3.0h-3.5z"/><path d="M485.3 407.1l1.75 3.0h-3.5z"/><path d="M486.7 407.5l1.75 3.0h-3.5z"/><path d="M488.2 407.7l1.75 3.0h-3.5z"/><path d="M491.2 406.8l1.75 3.0h-3.5z"/><path d="M492.7 407.2l1.75 3.0h-3.5z"/><path d="M494.2 406.8l1.75 3.0h-3.5z"/><path d="M497.2 407.3l1.75 3.0h-3.5z"/><path d="M498.7 406.7l1.75 3.0h-3.5z"/><path d="M500.2 407.7l1.75 3.0h-3.5z"/><path d="M501.7 407.5l1.75 3.0h-3.5z"/><path d="M503.2 407.4l1.75 3.0h-3.5z"/><path d="M506.2 406.7l1.75 3.0h-3.5z"/><path d="M507.6 406.9l1.75 3.0h-3.5z"/><path d="M509.1 407.5l1.75 3.0h-3.5z"/><path d="M512.1 407.6l1.75 3.0h-3.5z"/><path d="M513.6 406.9l1.75 3.0h-3.5z"/><path d="M515.1 406.8l1.75 3.0h-3.5z"/><path d="M516.6 407.1l1.75 3.0h-3.5z"/><path d="M518.1 406.7l1.75 3.0h-3.5z"/><path d="M521.1 407.8l1.75 3.0h-3.5z"/><path d="M522.6 407.4l1.75 3.0h-3.5z"/><path d="M524.1 407.4l1.75 3.0h-3.5z"/><path d="M525.6 407.7l1.75 3.0h-3.5z"/><path d="M527.1 406.8l1.75 3.0h-3.5z"/><path d="M528.5 407.9l1.75 3.0h-3.5z"/><path d="M530.0 407.9l1.75 3.0h-3.5z"/><path d="M533.0 407.6l1.75 3.0h-3.5z"/><path d="M534.5 407.2l1.75 3.0h-3.5z"/><path d="M536.0 407.4l1.75 3.0h-3.5z"/><path d="M537.5 407.4l1.75 3.0h-3.5z"/></g>
<g fill="#0000ff"><rect x="321.55" y="249.85" width="2.5" height="2.5"/><rect x="324.55" y="253.77" width="2.5" height="2.5"/><rect x="327.42" y="308.11" width="2.5" height="2.5"/><rect x="325.84" y="352.84" width="2.5" height="2.5"/><rect x="330.39" y="354.39" width="2.5" height="2.5"/><rect x="333.57" y="353.48" width="2.5" height="2.5"/><rect x="328.84" y="363.11" width="2.5" height="2.5"/><rect x="340.84" y="363.30" width="2.5" height="2.5"/><rect x="322.84" y="378.20" width="2.5" height="2.5"/><rect x="334.93" y="382.39" width="2.5" height="2.5"/><rect x="331.93" y="383.66" width="2.5" height="2.5"/><rect x="343.75" y="391.48" width="2.5" height="2.5"/><rect x="339.02" y="396.39" width="2.5" height="2.5"/><rect x="345.57" y="397.84" width="2.5" height="2.5"/><rect x="342.48" y="399.84" width="2.5" height="2.5"/><rect x="354.30" y="400.75" width="2.5" height="2.5"/><rect x="336.30" y="402.39" width="2.5" height="2.5"/><rect x="338.11" y="403.48" width="2.5" height="2.5"/><rect x="359.34" y="402.57" width="2.5" height="2.5"/><rect x="361.16" y="400.75" width="2.5" height="2.5"/><rect x="346.75" y="407.57" width="2.5" height="2.5"/><rect x="349.93" y="405.30" width="2.5" height="2.5"/><rect x="351.75" y="407.11" width="2.5" height="2.5"/><rect x="355.39" y="406.66" width="2.5" height="2.5"/><rect x="357.20" y="408.02" width="2.5" height="2.5"/><rect x="393.11" y="382.57" width="2.5" height="2.5"/><rect x="367.66" y="394.57" width="2.5" height="2.5"/><rect x="394.66" y="393.30" width="2.5" height="2.5"/><rect x="398.75" y="393.66" width="2.5" height="2.5"/><rect x="363.75" y="398.20" width="2.5" height="2.5"/><rect x="366.48" y="398.20" width="2.5" height="2.5"/><rect x="370.57" y="399.66" width="2.5" height="2.5"/><rect x="364.66" y="402.75" width="2.5" height="2.5"/><rect x="372.39" y="403.30" width="2.5" height="2.5"/><rect x="375.11" y="404.39" width="2.5" height="2.5"/><rect x="391.93" y="400.30" width="2.5" height="2.5"/><rect x="396.02" y="401.48" width="2.5" height="2.5"/><rect x="400.57" y="401.66" width="2.5" height="2.5"/><rect x="402.39" y="401.20" width="2.5" height="2.5"/><rect x="376.93" y="406.20" width="2.5" height="2.5"/><rect x="380.57" y="406.20" width="2.5" height="2.5"/><rect x="386.02" y="406.20" width="2.5" height="2.5"/><rect x="397.84" y="406.20" width="2.5" height="2.5"/><rect x="405.79" y="407.34" width="2.5" height="2.5"/><rect x="413.93" y="396.20" width="2.5" height="2.5"/><rect x="412.66" y="400.02" width="2.5" height="2.5"/><rect x="409.66" y="401.48" width="2.5" height="2.5"/><rect x="427.57" y="400.75" width="2.5" height="2.5"/><rect x="434.84" y="398.20" width="2.5" height="2.5"/><rect x="436.66" y="400.75" width="2.5" height="2.5"/><rect x="439.66" y="402.57" width="2.5" height="2.5"/><rect x="437.84" y="404.39" width="2.5" height="2.5"/><rect x="415.57" y="403.48" width="2.5" height="2.5"/><rect x="445.11" y="403.93" width="2.5" height="2.5"/><rect x="431.93" y="402.11" width="2.5" height="2.5"/><rect x="418.30" y="406.20" width="2.5" height="2.5"/><rect x="424.66" y="405.75" width="2.5" height="2.5"/><rect x="430.11" y="407.11" width="2.5" height="2.5"/><rect x="441.02" y="406.20" width="2.5" height="2.5"/><rect x="446.48" y="407.11" width="2.5" height="2.5"/><rect x="452.16" y="406.65" width="2.5" height="2.5"/><rect x="463.30" y="399.66" width="2.5" height="2.5"/><rect x="493.11" y="403.48" width="2.5" height="2.5"/><rect x="449.66" y="405.75" width="2.5" height="2.5"/><rect x="460.57" y="406.66" width="2.5" height="2.5"/><rect x="469.66" y="405.75" width="2.5" height="2.5"/><rect x="473.30" y="406.20" width="2.5" height="2.5"/><rect x="478.75" y="407.11" width="2.5" height="2.5"/><rect x="486.93" y="405.75" width="2.5" height="2.5"/><rect x="495.11" y="406.20" width="2.5" height="2.5"/><rect x="495.84" y="404.58" width="2.5" height="2.5"/><rect x="500.02" y="405.63" width="2.5" height="2.5"/><rect x="505.24" y="406.15" width="2.5" height="2.5"/><rect x="511.51" y="406.15" width="2.5" height="2.5"/><rect x="515.69" y="406.67" width="2.5" height="2.5"/><rect x="523.01" y="407.20" width="2.5" height="2.5"/><rect x="528.23" y="407.72" width="2.5" height="2.5"/><rect x="533.46" y="406.67" width="2.5" height="2.5"/><rect x="348.17" y="406.51" width="2.5" height="2.5"/><rect x="352.65" y="406.61" width="2.5" height="2.5"/><rect x="360.12" y="406.93" width="2.5" height="2.5"/><rect x="369.07" y="406.24" width="2.5" height="2.5"/><rect x="373.55" y="406.66" width="2.5" height="2.5"/><rect x="378.03" y="407.93" width="2.5" height="2.5"/><rect x="379.52" y="406.57" width="2.5" height="2.5"/><rect x="382.51" y="406.90" width="2.5" height="2.5"/><rect x="384.00" y="405.60" width="2.5" height="2.5"/><rect x="386.98" y="406.52" width="2.5" height="2.5"/><rect x="388.48" y="407.66" width="2.5" height="2.5"/><rect x="389.97" y="407.07" width="2.5" height="2.5"/><rect x="403.40" y="406.69" width="2.5" height="2.5"/><rect x="404.90" y="405.83" width="2.5" height="2.5"/><rect x="407.88" y="407.34" width="2.5" height="2.5"/><rect x="410.87" y="406.97" width="2.5" height="2.5"/><rect x="416.84" y="405.93" width="2.5" height="2.5"/><rect x="419.82" y="406.89" width="2.5" height="2.5"/><rect x="421.31" y="406.46" width="2.5" height="2.5"/><rect x="422.81" y="407.70" width="2.5" height="2.5"/><rect x="425.79" y="406.33" width="2.5" height="2.5"/><rect x="428.78" y="407.55" width="2.5" height="2.5"/><rect x="433.26" y="406.18" width="2.5" height="2.5"/><rect x="442.21" y="405.76" width="2.5" height="2.5"/><rect x="443.70" y="405.87" width="2.5" height="2.5"/><rect x="448.18" y="407.76" width="2.5" height="2.5"/><rect x="451.17" y="407.27" width="2.5" height="2.5"/><rect x="454.15" y="406.28" width="2.5" height="2.5"/><rect x="455.65" y="406.03" width="2.5" height="2.5"/><rect x="457.14" y="405.53" width="2.5" height="2.5"/><rect x="458.63" y="407.76" width="2.5" height="2.5"/><rect x="461.62" y="407.06" width="2.5" height="2.5"/><rect x="464.60" y="407.14" width="2.5" height="2.5"/><rect x="466.09" y="406.71" width="2.5" height="2.5"/><rect x="467.59" y="405.78" width="2.5" height="2.5"/><rect x="470.57" y="407.38" width="2.5" height="2.5"/><rect x="472.07" y="406.54" width="2.5" height="2.5"/><rect x="475.05" y="407.08" width="2.5" height="2.5"/><rect x="476.54" y="407.46" width="2.5" height="2.5"/><rect x="479.53" y="406.51" width="2.5" height="2.5"/><rect x="481.02" y="406.24" width="2.5" height="2.5"/><rect x="482.51" y="407.74" width="2.5" height="2.5"/><rect x="484.01" y="407.67" width="2.5" height="2.5"/><rect x="485.50" y="405.67" width="2.5" height="2.5"/><rect x="488.48" y="405.82" width="2.5" height="2.5"/><rect x="489.98" y="406.80" width="2.5" height="2.5"/><rect x="491.47" y="407.10" width="2.5" height="2.5"/><rect x="497.44" y="406.31" width="2.5" height="2.5"/><rect x="498.93" y="407.51" width="2.5" height="2.5"/><rect x="501.92" y="406.41" width="2.5" height="2.5"/><rect x="503.41" y="405.76" width="2.5" height="2.5"/><rect x="506.40" y="406.80" width="2.5" height="2.5"/><rect x="507.89" y="405.53" width="2.5" height="2.5"/><rect x="509.38" y="407.72" width="2.5" height="2.5"/><rect x="512.37" y="406.49" width="2.5" height="2.5"/><rect x="513.86" y="405.65" width="2.5" height="2.5"/><rect x="516.85" y="405.51" width="2.5" height="2.5"/><rect x="518.34" y="407.10" width="2.5" height="2.5"/><rect x="519.83" y="405.82" width="2.5" height="2.5"/><rect x="521.32" y="405.68" width="2.5" height="2.5"/><rect x="524.31" y="407.59" width="2.5" height="2.5"/><rect x="525.80" y="406.83" width="2.5" height="2.5"/><rect x="527.29" y="406.62" width="2.5" height="2.5"/><rect x="530.28" y="405.96" width="2.5" height="2.5"/><rect x="531.77" y="407.60" width="2.5" height="2.5"/><rect x="534.76" y="406.37" width="2.5" height="2.5"/><rect x="536.25" y="407.43" width="2.5" height="2.5"/></g>
<g fill="#000"><circle cx="324.1" cy="303.1" r="1.38"/><circle cx="330.0" cy="315.5" r="1.38"/><circle cx="328.6" cy="335.9" r="1.38"/><circle cx="327.1" cy="351.4" r="1.38"/><circle cx="322.6" cy="364.6" r="1.38"/><circle cx="325.6" cy="368.6" r="1.38"/><circle cx="331.6" cy="369.7" r="1.38"/><circle cx="337.6" cy="371.6" r="1.38"/><circle cx="352.3" cy="374.0" r="1.38"/><circle cx="357.1" cy="371.8" r="1.38"/><circle cx="353.9" cy="377.0" r="1.38"/><circle cx="360.3" cy="379.1" r="1.38"/><circle cx="334.6" cy="379.7" r="1.38"/><circle cx="336.2" cy="381.1" r="1.38"/><circle cx="339.2" cy="383.6" r="1.38"/><circle cx="355.3" cy="386.6" r="1.38"/><circle cx="361.4" cy="386.7" r="1.38"/><circle cx="349.4" cy="389.3" r="1.38"/><circle cx="351.0" cy="390.4" r="1.38"/><circle cx="341.9" cy="392.7" r="1.38"/><circle cx="340.7" cy="396.7" r="1.38"/><circle cx="343.9" cy="395.2" r="1.38"/><circle cx="345.3" cy="394.6" r="1.38"/><circle cx="346.8" cy="397.0" r="1.38"/><circle cx="348.0" cy="401.6" r="1.38"/><circle cx="358.4" cy="400.2" r="1.38"/><circle cx="362.9" cy="398.4" r="1.38"/><circle cx="333.0" cy="409.3" r="1.38"/><circle cx="367.4" cy="332.9" r="1.38"/><circle cx="371.8" cy="338.8" r="1.38"/><circle cx="374.9" cy="347.1" r="1.38"/><circle cx="370.4" cy="356.9" r="1.38"/><circle cx="415.4" cy="358.7" r="1.38"/><circle cx="364.4" cy="367.0" r="1.38"/><circle cx="365.9" cy="374.9" r="1.38"/><circle cx="368.9" cy="378.8" r="1.38"/><circle cx="373.4" cy="378.4" r="1.38"/><circle cx="378.0" cy="377.6" r="1.38"/><circle cx="392.9" cy="370.4" r="1.38"/><circle cx="400.4" cy="373.6" r="1.38"/><circle cx="388.4" cy="380.4" r="1.38"/><circle cx="394.4" cy="382.0" r="1.38"/><circle cx="385.3" cy="386.1" r="1.38"/><circle cx="397.3" cy="386.4" r="1.38"/><circle cx="398.9" cy="392.0" r="1.38"/><circle cx="405.0" cy="394.7" r="1.38"/><circle cx="401.8" cy="396.7" r="1.38"/><circle cx="395.9" cy="397.9" r="1.38"/><circle cx="383.8" cy="397.4" r="1.38"/><circle cx="386.8" cy="398.4" r="1.38"/><circle cx="376.4" cy="400.2" r="1.38"/><circle cx="379.6" cy="401.8" r="1.38"/><circle cx="391.4" cy="403.8" r="1.38"/><circle cx="390.0" cy="405.6" r="1.38"/><circle cx="389.1" cy="407.0" r="1.38"/><circle cx="380.9" cy="405.6" r="1.38"/><circle cx="382.7" cy="407.0" r="1.38"/><circle cx="405.9" cy="404.7" r="1.38"/><circle cx="408.2" cy="406.6" r="1.38"/><circle cx="413.6" cy="380.0" r="1.38"/><circle cx="416.8" cy="380.4" r="1.38"/><circle cx="419.7" cy="388.4" r="1.38"/><circle cx="440.6" cy="385.6" r="1.38"/><circle cx="439.1" cy="392.7" r="1.38"/><circle cx="443.9" cy="392.7" r="1.38"/><circle cx="418.4" cy="396.4" r="1.38"/><circle cx="424.1" cy="395.8" r="1.38"/><circle cx="427.3" cy="394.7" r="1.38"/><circle cx="447.7" cy="396.7" r="1.38"/><circle cx="449.6" cy="397.3" r="1.38"/><circle cx="454.1" cy="397.6" r="1.38"/><circle cx="425.9" cy="400.9" r="1.38"/><circle cx="437.7" cy="402.9" r="1.38"/><circle cx="432.3" cy="403.8" r="1.38"/><circle cx="429.1" cy="404.3" r="1.38"/><circle cx="408.6" cy="404.7" r="1.38"/><circle cx="411.4" cy="408.4" r="1.38"/><circle cx="422.3" cy="407.9" r="1.38"/><circle cx="434.1" cy="407.0" r="1.38"/><circle cx="445.0" cy="407.4" r="1.38"/><circle cx="451.4" cy="408.4" r="1.38"/><circle cx="461.6" cy="391.3" r="1.38"/><circle cx="458.6" cy="395.4" r="1.38"/><circle cx="464.6" cy="395.6" r="1.38"/><circle cx="470.7" cy="394.6" r="1.38"/><circle cx="475.0" cy="396.1" r="1.38"/><circle cx="494.6" cy="392.9" r="1.38"/><circle cx="460.0" cy="400.9" r="1.38"/><circle cx="462.9" cy="401.8" r="1.38"/><circle cx="473.4" cy="401.6" r="1.38"/><circle cx="485.4" cy="401.6" r="1.38"/><circle cx="489.8" cy="402.4" r="1.38"/><circle cx="497.4" cy="402.1" r="1.38"/><circle cx="455.6" cy="403.8" r="1.38"/><circle cx="467.4" cy="404.3" r="1.38"/><circle cx="450.4" cy="407.4" r="1.38"/><circle cx="457.3" cy="407.9" r="1.38"/><circle cx="466.4" cy="408.4" r="1.38"/><circle cx="476.4" cy="406.6" r="1.38"/><circle cx="484.1" cy="407.0" r="1.38"/><circle cx="487.3" cy="406.6" r="1.38"/><circle cx="492.7" cy="408.4" r="1.38"/><circle cx="499.1" cy="405.9" r="1.38"/><circle cx="527.2" cy="375.5" r="1.38"/><circle cx="503.4" cy="394.3" r="1.38"/><circle cx="508.1" cy="399.4" r="1.38"/><circle cx="510.1" cy="397.7" r="1.38"/><circle cx="512.2" cy="396.2" r="1.38"/><circle cx="516.7" cy="399.6" r="1.38"/><circle cx="501.8" cy="401.6" r="1.38"/><circle cx="525.8" cy="403.7" r="1.38"/><circle cx="518.5" cy="404.8" r="1.38"/><circle cx="521.6" cy="405.3" r="1.38"/><circle cx="523.7" cy="405.8" r="1.38"/><circle cx="532.1" cy="405.8" r="1.38"/><circle cx="534.7" cy="406.9" r="1.38"/><circle cx="536.8" cy="404.8" r="1.38"/><circle cx="537.3" cy="400.6" r="1.38"/><circle cx="504.9" cy="405.3" r="1.38"/><circle cx="510.7" cy="406.4" r="1.38"/><circle cx="514.9" cy="406.9" r="1.38"/><circle cx="403.2" cy="408.2" r="1.38"/><circle cx="412.1" cy="407.9" r="1.38"/><circle cx="421.1" cy="405.5" r="1.38"/><circle cx="430.0" cy="406.8" r="1.38"/><circle cx="436.0" cy="408.6" r="1.38"/><circle cx="442.0" cy="407.3" r="1.38"/><circle cx="446.4" cy="406.0" r="1.38"/><circle cx="452.4" cy="405.4" r="1.38"/><circle cx="468.8" cy="408.7" r="1.38"/><circle cx="471.8" cy="408.6" r="1.38"/><circle cx="477.8" cy="408.5" r="1.38"/><circle cx="479.3" cy="407.2" r="1.38"/><circle cx="480.8" cy="406.2" r="1.38"/><circle cx="482.3" cy="407.1" r="1.38"/><circle cx="488.2" cy="406.8" r="1.38"/><circle cx="491.2" cy="405.7" r="1.38"/><circle cx="495.7" cy="405.8" r="1.38"/><circle cx="500.2" cy="408.4" r="1.38"/><circle cx="506.2" cy="407.3" r="1.38"/><circle cx="509.1" cy="406.8" r="1.38"/><circle cx="513.6" cy="406.9" r="1.38"/><circle cx="519.6" cy="408.5" r="1.38"/><circle cx="522.6" cy="405.8" r="1.38"/><circle cx="528.5" cy="406.6" r="1.38"/><circle cx="530.0" cy="405.8" r="1.38"/><circle cx="533.0" cy="406.6" r="1.38"/><circle cx="536.0" cy="405.8" r="1.38"/></g>
</g>
<rect x="313.6" y="244.1" width="223.9" height="166.2" fill="none" stroke="#484848" stroke-width="1.25"/>
<path d="M313.60 410.3v3M321.06 410.3v1.6M328.53 410.3v3M335.99 410.3v1.6M343.45 410.3v3M350.92 410.3v1.6M358.38 410.3v3M365.84 410.3v1.6M373.31 410.3v3M380.77 410.3v1.6M388.23 410.3v3M395.70 410.3v1.6M403.16 410.3v3M410.62 410.3v1.6M418.09 410.3v3M425.55 410.3v1.6M433.01 410.3v3M440.48 410.3v1.6M447.94 410.3v3M455.40 410.3v1.6M462.87 410.3v3M470.33 410.3v1.6M477.79 410.3v3M485.26 410.3v1.6M492.72 410.3v3M500.18 410.3v1.6M507.65 410.3v3M515.11 410.3v1.6M522.57 410.3v3M530.04 410.3v1.6M537.50 410.3v3M313.6 410.30h-3M313.6 396.45h-1.6M313.6 382.60h-3M313.6 368.75h-1.6M313.6 354.90h-3M313.6 341.05h-1.6M313.6 327.20h-3M313.6 313.35h-1.6M313.6 299.50h-3M313.6 285.65h-1.6M313.6 271.80h-3M313.6 257.95h-1.6M313.6 244.10h-3" stroke="#2a2a2a" stroke-width="1.1" fill="none"/>
<g font-size="6.9" fill="#222" stroke="#222" stroke-width="0.14" letter-spacing="0.3"><text x="313.60" y="421.8" text-anchor="middle">0</text><text x="328.53" y="421.8" text-anchor="middle">10</text><text x="343.45" y="421.8" text-anchor="middle">20</text><text x="358.38" y="421.8" text-anchor="middle">30</text><text x="373.31" y="421.8" text-anchor="middle">40</text><text x="388.23" y="421.8" text-anchor="middle">50</text><text x="403.16" y="421.8" text-anchor="middle">60</text><text x="418.09" y="421.8" text-anchor="middle">70</text><text x="433.01" y="421.8" text-anchor="middle">80</text><text x="447.94" y="421.8" text-anchor="middle">90</text><text x="462.87" y="421.8" text-anchor="middle">100</text><text x="477.79" y="421.8" text-anchor="middle">110</text><text x="492.72" y="421.8" text-anchor="middle">120</text><text x="507.65" y="421.8" text-anchor="middle">130</text><text x="522.57" y="421.8" text-anchor="middle">140</text><text x="537.50" y="421.8" text-anchor="middle">150</text><text x="309.00" y="412.7" text-anchor="end">0</text><text x="309.00" y="385.0" text-anchor="end">10</text><text x="309.00" y="357.3" text-anchor="end">20</text><text x="309.00" y="329.6" text-anchor="end">30</text><text x="309.00" y="301.9" text-anchor="end">40</text><text x="309.00" y="274.2" text-anchor="end">50</text><text x="309.00" y="246.5" text-anchor="end">60</text></g>
<text x="425.6" y="436.1" text-anchor="middle" font-size="9.0" fill="#111" stroke="#111" stroke-width="0.18" textLength="39.6" lengthAdjust="spacingAndGlyphs">Time (day)</text>
<text transform="translate(297.3,326.8) rotate(-90)" text-anchor="middle" font-size="9.0" fill="#111" stroke="#111" stroke-width="0.18" textLength="40.1" lengthAdjust="spacingAndGlyphs">MAPE (%)</text>
<rect x="383.6" y="253.4" width="91.4" height="31.0" fill="#fff" stroke="#555" stroke-width="0.8"/>
<path d="M393.6 257.2l1.35 2.3h-2.7z" fill="#f00"/>
<text x="405.0" y="261.6" font-size="8.1" fill="#111" stroke="#111" stroke-width="0.18">MDF model</text>
<rect x="392.7" y="267.7" width="1.9" height="1.9" fill="#00f"/>
<text x="405.0" y="271.6" font-size="8.1" fill="#111" stroke="#111" stroke-width="0.18">single-feature LSTM</text>
<circle cx="393.6" cy="278.6" r="1.0" fill="#000"/>
<text x="405.0" y="281.6" font-size="8.1" fill="#111" stroke="#111" stroke-width="0.18">multi-feature LSTM</text>
<text x="413.5" y="460.8" text-anchor="middle" font-size="13.8" fill="#000" textLength="43.7" lengthAdjust="spacingAndGlyphs">(<tspan font-weight="bold">d</tspan>) CJ4</text>
<clipPath id="cpe"><rect x="31.5" y="469.4" width="221.8" height="162.6"/></clipPath><g clip-path="url(#cpe)">
<g fill="#ff0000"><path d="M47.1 518.9l1.75 3.0h-3.5z"/><path d="M48.3 574.5l1.75 3.0h-3.5z"/><path d="M51.0 584.9l1.75 3.0h-3.5z"/><path d="M56.7 602.2l1.75 3.0h-3.5z"/><path d="M64.0 602.2l1.75 3.0h-3.5z"/><path d="M52.5 607.9l1.75 3.0h-3.5z"/><path d="M55.3 611.9l1.75 3.0h-3.5z"/><path d="M58.3 611.9l1.75 3.0h-3.5z"/><path d="M59.6 611.9l1.75 3.0h-3.5z"/><path d="M65.3 615.8l1.75 3.0h-3.5z"/><path d="M61.5 621.3l1.75 3.0h-3.5z"/><path d="M62.8 621.7l1.75 3.0h-3.5z"/><path d="M68.0 622.2l1.75 3.0h-3.5z"/><path d="M75.1 624.5l1.75 3.0h-3.5z"/><path d="M49.8 626.3l1.75 3.0h-3.5z"/><path d="M54.2 625.8l1.75 3.0h-3.5z"/><path d="M66.9 628.8l1.75 3.0h-3.5z"/><path d="M68.7 629.0l1.75 3.0h-3.5z"/><path d="M81.2 626.7l1.75 3.0h-3.5z"/><path d="M82.4 627.2l1.75 3.0h-3.5z"/><path d="M85.1 628.1l1.75 3.0h-3.5z"/><path d="M83.0 618.1l1.75 3.0h-3.5z"/><path d="M112.9 610.4l1.75 3.0h-3.5z"/><path d="M94.5 620.4l1.75 3.0h-3.5z"/><path d="M91.8 622.6l1.75 3.0h-3.5z"/><path d="M118.2 621.3l1.75 3.0h-3.5z"/><path d="M89.1 624.9l1.75 3.0h-3.5z"/><path d="M87.7 626.3l1.75 3.0h-3.5z"/><path d="M86.4 627.6l1.75 3.0h-3.5z"/><path d="M96.4 624.0l1.75 3.0h-3.5z"/><path d="M106.4 624.9l1.75 3.0h-3.5z"/><path d="M114.1 625.4l1.75 3.0h-3.5z"/><path d="M110.0 627.2l1.75 3.0h-3.5z"/><path d="M117.3 627.2l1.75 3.0h-3.5z"/><path d="M120.9 626.3l1.75 3.0h-3.5z"/><path d="M92.7 628.1l1.75 3.0h-3.5z"/><path d="M128.0 628.6l1.75 3.0h-3.5z"/><path d="M131.4 623.7l1.75 3.0h-3.5z"/><path d="M132.7 623.4l1.75 3.0h-3.5z"/><path d="M145.7 625.4l1.75 3.0h-3.5z"/><path d="M146.8 626.3l1.75 3.0h-3.5z"/><path d="M134.1 627.2l1.75 3.0h-3.5z"/><path d="M143.2 628.1l1.75 3.0h-3.5z"/><path d="M152.3 628.6l1.75 3.0h-3.5z"/><path d="M166.8 623.6l1.75 3.0h-3.5z"/><path d="M167.7 627.2l1.75 3.0h-3.5z"/><path d="M160.0 628.1l1.75 3.0h-3.5z"/><path d="M172.3 628.6l1.75 3.0h-3.5z"/><path d="M170.0 629.0l1.75 3.0h-3.5z"/><path d="M178.2 628.1l1.75 3.0h-3.5z"/><path d="M182.7 628.1l1.75 3.0h-3.5z"/><path d="M190.9 626.3l1.75 3.0h-3.5z"/><path d="M200.9 627.6l1.75 3.0h-3.5z"/><path d="M204.6 627.6l1.75 3.0h-3.5z"/><path d="M208.2 628.6l1.75 3.0h-3.5z"/><path d="M213.6 627.6l1.75 3.0h-3.5z"/><path d="M217.3 629.0l1.75 3.0h-3.5z"/><path d="M222.7 628.6l1.75 3.0h-3.5z"/><path d="M224.6 628.1l1.75 3.0h-3.5z"/><path d="M229.1 629.0l1.75 3.0h-3.5z"/><path d="M233.6 628.6l1.75 3.0h-3.5z"/><path d="M246.4 626.7l1.75 3.0h-3.5z"/><path d="M242.7 629.5l1.75 3.0h-3.5z"/><path d="M214.6 629.0l1.75 3.0h-3.5z"/><path d="M69.7 629.3l1.75 3.0h-3.5z"/><path d="M71.1 628.3l1.75 3.0h-3.5z"/><path d="M72.5 628.5l1.75 3.0h-3.5z"/><path d="M73.9 628.6l1.75 3.0h-3.5z"/><path d="M76.7 628.8l1.75 3.0h-3.5z"/><path d="M78.1 628.2l1.75 3.0h-3.5z"/><path d="M79.5 628.8l1.75 3.0h-3.5z"/><path d="M90.6 628.1l1.75 3.0h-3.5z"/><path d="M97.6 629.1l1.75 3.0h-3.5z"/><path d="M99.0 628.3l1.75 3.0h-3.5z"/><path d="M100.4 628.9l1.75 3.0h-3.5z"/><path d="M101.8 629.4l1.75 3.0h-3.5z"/><path d="M103.2 629.0l1.75 3.0h-3.5z"/><path d="M104.6 628.4l1.75 3.0h-3.5z"/><path d="M107.4 629.3l1.75 3.0h-3.5z"/><path d="M108.8 629.1l1.75 3.0h-3.5z"/><path d="M111.6 629.3l1.75 3.0h-3.5z"/><path d="M115.8 629.0l1.75 3.0h-3.5z"/><path d="M120.0 628.7l1.75 3.0h-3.5z"/><path d="M122.8 629.5l1.75 3.0h-3.5z"/><path d="M124.2 629.3l1.75 3.0h-3.5z"/><path d="M125.6 628.2l1.75 3.0h-3.5z"/><path d="M127.0 628.4l1.75 3.0h-3.5z"/><path d="M129.8 629.5l1.75 3.0h-3.5z"/><path d="M135.4 628.9l1.75 3.0h-3.5z"/><path d="M136.8 628.3l1.75 3.0h-3.5z"/><path d="M138.2 628.1l1.75 3.0h-3.5z"/><path d="M139.6 628.4l1.75 3.0h-3.5z"/><path d="M141.0 629.5l1.75 3.0h-3.5z"/><path d="M142.4 629.4l1.75 3.0h-3.5z"/><path d="M148.0 628.0l1.75 3.0h-3.5z"/><path d="M149.4 628.2l1.75 3.0h-3.5z"/><path d="M150.8 628.7l1.75 3.0h-3.5z"/><path d="M153.6 628.4l1.75 3.0h-3.5z"/><path d="M155.0 628.1l1.75 3.0h-3.5z"/><path d="M156.4 629.0l1.75 3.0h-3.5z"/><path d="M157.8 629.1l1.75 3.0h-3.5z"/><path d="M159.2 628.8l1.75 3.0h-3.5z"/><path d="M162.0 629.5l1.75 3.0h-3.5z"/><path d="M163.4 628.0l1.75 3.0h-3.5z"/><path d="M164.8 629.0l1.75 3.0h-3.5z"/><path d="M169.0 628.3l1.75 3.0h-3.5z"/><path d="M173.2 628.6l1.75 3.0h-3.5z"/><path d="M174.6 628.3l1.75 3.0h-3.5z"/><path d="M176.0 629.3l1.75 3.0h-3.5z"/><path d="M177.4 629.0l1.75 3.0h-3.5z"/><path d="M180.2 628.7l1.75 3.0h-3.5z"/><path d="M181.6 628.6l1.75 3.0h-3.5z"/><path d="M184.4 629.4l1.75 3.0h-3.5z"/><path d="M185.8 628.1l1.75 3.0h-3.5z"/><path d="M187.2 628.1l1.75 3.0h-3.5z"/><path d="M188.6 629.3l1.75 3.0h-3.5z"/><path d="M190.0 629.5l1.75 3.0h-3.5z"/><path d="M192.8 628.2l1.75 3.0h-3.5z"/><path d="M194.2 628.6l1.75 3.0h-3.5z"/><path d="M195.5 628.3l1.75 3.0h-3.5z"/><path d="M196.9 628.6l1.75 3.0h-3.5z"/><path d="M198.3 629.2l1.75 3.0h-3.5z"/><path d="M199.7 629.1l1.75 3.0h-3.5z"/><path d="M202.5 629.0l1.75 3.0h-3.5z"/><path d="M205.3 628.1l1.75 3.0h-3.5z"/><path d="M206.7 629.2l1.75 3.0h-3.5z"/><path d="M209.5 628.1l1.75 3.0h-3.5z"/><path d="M210.9 629.0l1.75 3.0h-3.5z"/><path d="M212.3 629.0l1.75 3.0h-3.5z"/><path d="M219.3 629.1l1.75 3.0h-3.5z"/><path d="M220.7 628.7l1.75 3.0h-3.5z"/><path d="M223.5 628.2l1.75 3.0h-3.5z"/><path d="M226.3 628.8l1.75 3.0h-3.5z"/><path d="M227.7 628.5l1.75 3.0h-3.5z"/><path d="M230.5 628.0l1.75 3.0h-3.5z"/><path d="M231.9 629.3l1.75 3.0h-3.5z"/><path d="M234.7 628.8l1.75 3.0h-3.5z"/><path d="M236.1 629.4l1.75 3.0h-3.5z"/><path d="M237.5 628.8l1.75 3.0h-3.5z"/><path d="M238.9 629.1l1.75 3.0h-3.5z"/><path d="M240.3 628.0l1.75 3.0h-3.5z"/><path d="M241.7 628.3l1.75 3.0h-3.5z"/><path d="M244.5 629.2l1.75 3.0h-3.5z"/><path d="M247.3 629.4l1.75 3.0h-3.5z"/></g>
<g fill="#0000ff"><rect x="47.16" y="481.63" width="2.5" height="2.5"/><rect x="48.57" y="571.02" width="2.5" height="2.5"/><rect x="50.39" y="573.93" width="2.5" height="2.5"/><rect x="55.66" y="577.57" width="2.5" height="2.5"/><rect x="52.93" y="580.57" width="2.5" height="2.5"/><rect x="51.57" y="586.30" width="2.5" height="2.5"/><rect x="62.75" y="585.75" width="2.5" height="2.5"/><rect x="45.84" y="606.20" width="2.5" height="2.5"/><rect x="57.02" y="602.84" width="2.5" height="2.5"/><rect x="54.30" y="608.57" width="2.5" height="2.5"/><rect x="65.66" y="612.84" width="2.5" height="2.5"/><rect x="61.11" y="615.84" width="2.5" height="2.5"/><rect x="66.75" y="618.30" width="2.5" height="2.5"/><rect x="64.02" y="621.66" width="2.5" height="2.5"/><rect x="59.75" y="624.93" width="2.5" height="2.5"/><rect x="75.48" y="622.20" width="2.5" height="2.5"/><rect x="79.70" y="623.75" width="2.5" height="2.5"/><rect x="81.06" y="623.52" width="2.5" height="2.5"/><rect x="83.57" y="619.66" width="2.5" height="2.5"/><rect x="70.93" y="625.57" width="2.5" height="2.5"/><rect x="68.39" y="628.02" width="2.5" height="2.5"/><rect x="69.75" y="628.75" width="2.5" height="2.5"/><rect x="73.84" y="627.84" width="2.5" height="2.5"/><rect x="72.48" y="628.75" width="2.5" height="2.5"/><rect x="76.57" y="628.30" width="2.5" height="2.5"/><rect x="77.93" y="629.20" width="2.5" height="2.5"/><rect x="111.66" y="603.48" width="2.5" height="2.5"/><rect x="87.84" y="616.20" width="2.5" height="2.5"/><rect x="113.11" y="614.39" width="2.5" height="2.5"/><rect x="117.39" y="615.84" width="2.5" height="2.5"/><rect x="90.57" y="620.75" width="2.5" height="2.5"/><rect x="86.48" y="621.93" width="2.5" height="2.5"/><rect x="109.20" y="622.84" width="2.5" height="2.5"/><rect x="110.57" y="621.93" width="2.5" height="2.5"/><rect x="114.66" y="624.39" width="2.5" height="2.5"/><rect x="118.75" y="623.30" width="2.5" height="2.5"/><rect x="91.93" y="625.57" width="2.5" height="2.5"/><rect x="101.02" y="626.48" width="2.5" height="2.5"/><rect x="96.93" y="627.39" width="2.5" height="2.5"/><rect x="98.75" y="628.75" width="2.5" height="2.5"/><rect x="89.66" y="627.84" width="2.5" height="2.5"/><rect x="106.02" y="628.75" width="2.5" height="2.5"/><rect x="123.30" y="627.84" width="2.5" height="2.5"/><rect x="126.02" y="627.84" width="2.5" height="2.5"/><rect x="130.57" y="621.02" width="2.5" height="2.5"/><rect x="131.93" y="621.30" width="2.5" height="2.5"/><rect x="143.75" y="621.66" width="2.5" height="2.5"/><rect x="150.84" y="623.30" width="2.5" height="2.5"/><rect x="160.84" y="623.75" width="2.5" height="2.5"/><rect x="124.66" y="627.39" width="2.5" height="2.5"/><rect x="128.30" y="628.75" width="2.5" height="2.5"/><rect x="135.57" y="626.02" width="2.5" height="2.5"/><rect x="137.39" y="628.30" width="2.5" height="2.5"/><rect x="147.84" y="625.11" width="2.5" height="2.5"/><rect x="153.75" y="626.48" width="2.5" height="2.5"/><rect x="155.57" y="626.02" width="2.5" height="2.5"/><rect x="158.30" y="626.93" width="2.5" height="2.5"/><rect x="163.75" y="626.93" width="2.5" height="2.5"/><rect x="167.39" y="625.11" width="2.5" height="2.5"/><rect x="171.93" y="625.43" width="2.5" height="2.5"/><rect x="177.84" y="624.02" width="2.5" height="2.5"/><rect x="180.57" y="626.02" width="2.5" height="2.5"/><rect x="183.30" y="626.93" width="2.5" height="2.5"/><rect x="184.66" y="627.84" width="2.5" height="2.5"/><rect x="190.57" y="628.30" width="2.5" height="2.5"/><rect x="193.30" y="628.30" width="2.5" height="2.5"/><rect x="196.02" y="628.30" width="2.5" height="2.5"/><rect x="206.02" y="626.48" width="2.5" height="2.5"/><rect x="208.75" y="627.84" width="2.5" height="2.5"/><rect x="214.88" y="628.30" width="2.5" height="2.5"/><rect x="217.84" y="627.39" width="2.5" height="2.5"/><rect x="174.20" y="627.84" width="2.5" height="2.5"/><rect x="221.48" y="626.48" width="2.5" height="2.5"/><rect x="210.57" y="628.30" width="2.5" height="2.5"/><rect x="217.84" y="629.20" width="2.5" height="2.5"/><rect x="225.11" y="629.66" width="2.5" height="2.5"/><rect x="230.57" y="629.20" width="2.5" height="2.5"/><rect x="236.02" y="629.20" width="2.5" height="2.5"/><rect x="239.66" y="628.75" width="2.5" height="2.5"/><rect x="82.41" y="628.44" width="2.5" height="2.5"/><rect x="85.20" y="627.57" width="2.5" height="2.5"/><rect x="93.60" y="629.04" width="2.5" height="2.5"/><rect x="94.99" y="627.73" width="2.5" height="2.5"/><rect x="97.79" y="628.34" width="2.5" height="2.5"/><rect x="101.99" y="628.27" width="2.5" height="2.5"/><rect x="103.39" y="628.18" width="2.5" height="2.5"/><rect x="104.78" y="628.87" width="2.5" height="2.5"/><rect x="107.58" y="629.27" width="2.5" height="2.5"/><rect x="115.97" y="628.32" width="2.5" height="2.5"/><rect x="120.17" y="629.18" width="2.5" height="2.5"/><rect x="121.57" y="628.94" width="2.5" height="2.5"/><rect x="127.16" y="627.07" width="2.5" height="2.5"/><rect x="132.76" y="628.76" width="2.5" height="2.5"/><rect x="134.16" y="627.40" width="2.5" height="2.5"/><rect x="138.35" y="629.03" width="2.5" height="2.5"/><rect x="139.75" y="627.65" width="2.5" height="2.5"/><rect x="141.15" y="627.45" width="2.5" height="2.5"/><rect x="142.55" y="629.19" width="2.5" height="2.5"/><rect x="145.35" y="629.37" width="2.5" height="2.5"/><rect x="146.74" y="628.97" width="2.5" height="2.5"/><rect x="149.54" y="629.35" width="2.5" height="2.5"/><rect x="152.34" y="628.42" width="2.5" height="2.5"/><rect x="156.54" y="629.28" width="2.5" height="2.5"/><rect x="159.33" y="627.94" width="2.5" height="2.5"/><rect x="162.13" y="629.07" width="2.5" height="2.5"/><rect x="164.93" y="629.40" width="2.5" height="2.5"/><rect x="166.33" y="627.27" width="2.5" height="2.5"/><rect x="169.12" y="628.37" width="2.5" height="2.5"/><rect x="170.52" y="627.91" width="2.5" height="2.5"/><rect x="173.32" y="627.73" width="2.5" height="2.5"/><rect x="176.12" y="627.76" width="2.5" height="2.5"/><rect x="178.91" y="627.96" width="2.5" height="2.5"/><rect x="181.71" y="627.99" width="2.5" height="2.5"/><rect x="185.91" y="627.63" width="2.5" height="2.5"/><rect x="187.31" y="628.51" width="2.5" height="2.5"/><rect x="188.70" y="628.31" width="2.5" height="2.5"/><rect x="191.50" y="628.07" width="2.5" height="2.5"/><rect x="194.30" y="627.99" width="2.5" height="2.5"/><rect x="197.10" y="628.18" width="2.5" height="2.5"/><rect x="198.50" y="628.51" width="2.5" height="2.5"/><rect x="199.89" y="627.70" width="2.5" height="2.5"/><rect x="201.29" y="629.19" width="2.5" height="2.5"/><rect x="202.69" y="627.77" width="2.5" height="2.5"/><rect x="204.09" y="627.14" width="2.5" height="2.5"/><rect x="206.89" y="629.38" width="2.5" height="2.5"/><rect x="209.68" y="628.22" width="2.5" height="2.5"/><rect x="212.48" y="627.82" width="2.5" height="2.5"/><rect x="213.88" y="628.76" width="2.5" height="2.5"/><rect x="216.68" y="627.76" width="2.5" height="2.5"/><rect x="219.48" y="629.04" width="2.5" height="2.5"/><rect x="222.27" y="628.07" width="2.5" height="2.5"/><rect x="223.67" y="629.18" width="2.5" height="2.5"/><rect x="226.47" y="628.61" width="2.5" height="2.5"/><rect x="227.87" y="629.20" width="2.5" height="2.5"/><rect x="229.27" y="627.84" width="2.5" height="2.5"/><rect x="232.06" y="627.42" width="2.5" height="2.5"/><rect x="233.46" y="627.50" width="2.5" height="2.5"/><rect x="234.86" y="627.84" width="2.5" height="2.5"/><rect x="237.66" y="628.98" width="2.5" height="2.5"/><rect x="240.46" y="627.81" width="2.5" height="2.5"/><rect x="241.85" y="629.08" width="2.5" height="2.5"/><rect x="243.25" y="628.81" width="2.5" height="2.5"/><rect x="244.65" y="628.18" width="2.5" height="2.5"/><rect x="246.05" y="627.88" width="2.5" height="2.5"/></g>
<g fill="#000"><circle cx="47.1" cy="526.0" r="1.38"/><circle cx="52.7" cy="534.1" r="1.38"/><circle cx="45.8" cy="558.9" r="1.38"/><circle cx="51.0" cy="570.9" r="1.38"/><circle cx="49.8" cy="577.5" r="1.38"/><circle cx="56.9" cy="584.5" r="1.38"/><circle cx="85.1" cy="576.4" r="1.38"/><circle cx="48.5" cy="594.5" r="1.38"/><circle cx="54.0" cy="597.3" r="1.38"/><circle cx="80.5" cy="599.5" r="1.38"/><circle cx="75.1" cy="602.7" r="1.38"/><circle cx="85.9" cy="606.7" r="1.38"/><circle cx="61.3" cy="610.5" r="1.38"/><circle cx="58.3" cy="612.5" r="1.38"/><circle cx="72.4" cy="609.5" r="1.38"/><circle cx="73.7" cy="608.2" r="1.38"/><circle cx="77.8" cy="610.7" r="1.38"/><circle cx="79.5" cy="610.9" r="1.38"/><circle cx="64.0" cy="613.8" r="1.38"/><circle cx="67.8" cy="614.5" r="1.38"/><circle cx="69.2" cy="615.5" r="1.38"/><circle cx="70.5" cy="616.2" r="1.38"/><circle cx="76.5" cy="614.5" r="1.38"/><circle cx="55.3" cy="618.0" r="1.38"/><circle cx="59.8" cy="620.0" r="1.38"/><circle cx="65.3" cy="620.0" r="1.38"/><circle cx="82.0" cy="618.9" r="1.38"/><circle cx="83.5" cy="622.7" r="1.38"/><circle cx="84.6" cy="620.9" r="1.38"/><circle cx="66.9" cy="625.9" r="1.38"/><circle cx="62.4" cy="628.2" r="1.38"/><circle cx="87.6" cy="555.0" r="1.38"/><circle cx="91.8" cy="559.4" r="1.38"/><circle cx="90.4" cy="564.2" r="1.38"/><circle cx="94.7" cy="572.7" r="1.38"/><circle cx="134.0" cy="575.1" r="1.38"/><circle cx="132.6" cy="579.8" r="1.38"/><circle cx="93.1" cy="586.0" r="1.38"/><circle cx="113.0" cy="592.9" r="1.38"/><circle cx="118.4" cy="592.6" r="1.38"/><circle cx="89.1" cy="603.6" r="1.38"/><circle cx="96.2" cy="604.7" r="1.38"/><circle cx="97.7" cy="601.4" r="1.38"/><circle cx="107.3" cy="604.7" r="1.38"/><circle cx="111.4" cy="608.9" r="1.38"/><circle cx="117.1" cy="606.4" r="1.38"/><circle cx="120.0" cy="601.6" r="1.38"/><circle cx="100.2" cy="614.7" r="1.38"/><circle cx="115.9" cy="612.5" r="1.38"/><circle cx="103.2" cy="619.8" r="1.38"/><circle cx="108.9" cy="620.7" r="1.38"/><circle cx="110.2" cy="620.5" r="1.38"/><circle cx="114.4" cy="620.7" r="1.38"/><circle cx="101.6" cy="623.8" r="1.38"/><circle cx="126.9" cy="623.0" r="1.38"/><circle cx="104.5" cy="625.9" r="1.38"/><circle cx="99.1" cy="626.8" r="1.38"/><circle cx="121.8" cy="626.8" r="1.38"/><circle cx="124.5" cy="626.4" r="1.38"/><circle cx="125.9" cy="627.3" r="1.38"/><circle cx="105.9" cy="629.1" r="1.38"/><circle cx="173.0" cy="608.2" r="1.38"/><circle cx="135.4" cy="611.4" r="1.38"/><circle cx="131.2" cy="617.1" r="1.38"/><circle cx="142.3" cy="615.5" r="1.38"/><circle cx="149.1" cy="614.7" r="1.38"/><circle cx="146.4" cy="618.0" r="1.38"/><circle cx="159.1" cy="615.9" r="1.38"/><circle cx="152.1" cy="619.8" r="1.38"/><circle cx="154.8" cy="619.3" r="1.38"/><circle cx="153.6" cy="621.8" r="1.38"/><circle cx="160.4" cy="620.0" r="1.38"/><circle cx="163.2" cy="619.3" r="1.38"/><circle cx="138.2" cy="622.5" r="1.38"/><circle cx="139.7" cy="621.8" r="1.38"/><circle cx="157.7" cy="622.9" r="1.38"/><circle cx="166.4" cy="622.3" r="1.38"/><circle cx="167.7" cy="622.5" r="1.38"/><circle cx="170.4" cy="624.0" r="1.38"/><circle cx="165.0" cy="624.4" r="1.38"/><circle cx="136.8" cy="625.0" r="1.38"/><circle cx="144.1" cy="625.0" r="1.38"/><circle cx="148.2" cy="624.5" r="1.38"/><circle cx="140.9" cy="627.3" r="1.38"/><circle cx="128.6" cy="627.3" r="1.38"/><circle cx="169.1" cy="628.6" r="1.38"/><circle cx="150.4" cy="630.0" r="1.38"/><circle cx="155.9" cy="630.0" r="1.38"/><circle cx="163.2" cy="629.5" r="1.38"/><circle cx="171.6" cy="629.8" r="1.38"/><circle cx="187.1" cy="613.2" r="1.38"/><circle cx="181.6" cy="615.9" r="1.38"/><circle cx="206.8" cy="616.2" r="1.38"/><circle cx="177.3" cy="619.3" r="1.38"/><circle cx="175.9" cy="621.1" r="1.38"/><circle cx="184.1" cy="621.4" r="1.38"/><circle cx="194.1" cy="619.1" r="1.38"/><circle cx="198.4" cy="621.8" r="1.38"/><circle cx="191.1" cy="622.5" r="1.38"/><circle cx="209.6" cy="623.8" r="1.38"/><circle cx="215.0" cy="624.5" r="1.38"/><circle cx="190.0" cy="625.5" r="1.38"/><circle cx="182.7" cy="625.0" r="1.38"/><circle cx="179.1" cy="625.9" r="1.38"/><circle cx="205.0" cy="626.4" r="1.38"/><circle cx="217.9" cy="625.7" r="1.38"/><circle cx="212.3" cy="627.3" r="1.38"/><circle cx="195.4" cy="628.2" r="1.38"/><circle cx="200.0" cy="627.7" r="1.38"/><circle cx="201.8" cy="629.1" r="1.38"/><circle cx="193.2" cy="626.8" r="1.38"/><circle cx="222.0" cy="611.4" r="1.38"/><circle cx="237.4" cy="607.5" r="1.38"/><circle cx="227.7" cy="618.0" r="1.38"/><circle cx="241.8" cy="617.7" r="1.38"/><circle cx="240.2" cy="621.4" r="1.38"/><circle cx="224.7" cy="622.5" r="1.38"/><circle cx="219.1" cy="625.0" r="1.38"/><circle cx="223.4" cy="625.9" r="1.38"/><circle cx="226.4" cy="625.0" r="1.38"/><circle cx="229.6" cy="627.7" r="1.38"/><circle cx="231.8" cy="627.3" r="1.38"/><circle cx="233.6" cy="626.8" r="1.38"/><circle cx="235.0" cy="627.3" r="1.38"/><circle cx="238.9" cy="626.8" r="1.38"/><circle cx="243.2" cy="628.6" r="1.38"/><circle cx="245.0" cy="629.5" r="1.38"/><circle cx="246.4" cy="630.0" r="1.38"/><circle cx="122.8" cy="627.8" r="1.38"/><circle cx="129.8" cy="627.3" r="1.38"/><circle cx="145.2" cy="629.3" r="1.38"/><circle cx="162.0" cy="629.0" r="1.38"/><circle cx="174.6" cy="627.8" r="1.38"/><circle cx="180.2" cy="629.2" r="1.38"/><circle cx="185.8" cy="629.9" r="1.38"/><circle cx="188.6" cy="628.2" r="1.38"/><circle cx="196.9" cy="629.3" r="1.38"/><circle cx="203.9" cy="628.6" r="1.38"/><circle cx="208.1" cy="628.6" r="1.38"/><circle cx="210.9" cy="627.9" r="1.38"/><circle cx="213.7" cy="629.7" r="1.38"/><circle cx="216.5" cy="628.9" r="1.38"/><circle cx="220.7" cy="628.4" r="1.38"/><circle cx="230.5" cy="628.3" r="1.38"/><circle cx="236.1" cy="628.2" r="1.38"/><circle cx="247.3" cy="629.4" r="1.38"/></g>
</g>
<rect x="37.5" y="475.4" width="209.8" height="156.3" fill="none" stroke="#484848" stroke-width="1.25"/>
<path d="M37.50 631.7v3M44.49 631.7v1.6M51.49 631.7v3M58.48 631.7v1.6M65.47 631.7v3M72.47 631.7v1.6M79.46 631.7v3M86.45 631.7v1.6M93.45 631.7v3M100.44 631.7v1.6M107.43 631.7v3M114.43 631.7v1.6M121.42 631.7v3M128.41 631.7v1.6M135.41 631.7v3M142.40 631.7v1.6M149.39 631.7v3M156.39 631.7v1.6M163.38 631.7v3M170.37 631.7v1.6M177.37 631.7v3M184.36 631.7v1.6M191.35 631.7v3M198.35 631.7v1.6M205.34 631.7v3M212.33 631.7v1.6M219.33 631.7v3M226.32 631.7v1.6M233.31 631.7v3M240.31 631.7v1.6M247.30 631.7v3M37.5 631.70h-3M37.5 618.68h-1.6M37.5 605.65h-3M37.5 592.62h-1.6M37.5 579.60h-3M37.5 566.58h-1.6M37.5 553.55h-3M37.5 540.52h-1.6M37.5 527.50h-3M37.5 514.48h-1.6M37.5 501.45h-3M37.5 488.42h-1.6M37.5 475.40h-3" stroke="#2a2a2a" stroke-width="1.1" fill="none"/>
<g font-size="6.6" fill="#222" stroke="#222" stroke-width="0.14" letter-spacing="0.3"><text x="37.50" y="643.2" text-anchor="middle">0</text><text x="51.49" y="643.2" text-anchor="middle">10</text><text x="65.47" y="643.2" text-anchor="middle">20</text><text x="79.46" y="643.2" text-anchor="middle">30</text><text x="93.45" y="643.2" text-anchor="middle">40</text><text x="107.43" y="643.2" text-anchor="middle">50</text><text x="121.42" y="643.2" text-anchor="middle">60</text><text x="135.41" y="643.2" text-anchor="middle">70</text><text x="149.39" y="643.2" text-anchor="middle">80</text><text x="163.38" y="643.2" text-anchor="middle">90</text><text x="177.37" y="643.2" text-anchor="middle">100</text><text x="191.35" y="643.2" text-anchor="middle">110</text><text x="205.34" y="643.2" text-anchor="middle">120</text><text x="219.33" y="643.2" text-anchor="middle">130</text><text x="233.31" y="643.2" text-anchor="middle">140</text><text x="247.30" y="643.2" text-anchor="middle">150</text><text x="32.90" y="634.1" text-anchor="end">0</text><text x="32.90" y="608.1" text-anchor="end">10</text><text x="32.90" y="582.0" text-anchor="end">20</text><text x="32.90" y="555.9" text-anchor="end">30</text><text x="32.90" y="529.9" text-anchor="end">40</text><text x="32.90" y="503.8" text-anchor="end">50</text><text x="32.90" y="477.8" text-anchor="end">60</text></g>
<text x="142.4" y="656.0" text-anchor="middle" font-size="8.3" fill="#111" stroke="#111" stroke-width="0.18" textLength="36.7" lengthAdjust="spacingAndGlyphs">Time (day)</text>
<text transform="translate(22.4,553.1) rotate(-90)" text-anchor="middle" font-size="8.3" fill="#111" stroke="#111" stroke-width="0.18" textLength="38.4" lengthAdjust="spacingAndGlyphs">MAPE (%)</text>
<rect x="103.0" y="484.6" width="85.6" height="28.8" fill="#fff" stroke="#555" stroke-width="0.8"/>
<path d="M113.0 488.4l1.35 2.3h-2.7z" fill="#f00"/>
<text x="123.0" y="492.8" font-size="7.6" fill="#111" stroke="#111" stroke-width="0.18">MDF model</text>
<rect x="112.0" y="498.4" width="1.9" height="1.9" fill="#00f"/>
<text x="123.0" y="502.3" font-size="7.6" fill="#111" stroke="#111" stroke-width="0.18">single-feature LSTM</text>
<circle cx="113.0" cy="508.8" r="1.0" fill="#000"/>
<text x="123.0" y="511.8" font-size="7.6" fill="#111" stroke="#111" stroke-width="0.18">multi-feature LSTM</text>
<text x="130.5" y="679.6" text-anchor="middle" font-size="13.8" fill="#000" textLength="42.1" lengthAdjust="spacingAndGlyphs">(<tspan font-weight="bold">e</tspan>) CJ5</text>
<clipPath id="cpf"><rect x="314.0" y="469.4" width="222.1" height="162.5"/></clipPath><g clip-path="url(#cpf)">
<g fill="#ff0000"><path d="M329.8 528.9l1.75 3.0h-3.5z"/><path d="M331.2 571.7l1.75 3.0h-3.5z"/><path d="M333.9 580.8l1.75 3.0h-3.5z"/><path d="M346.4 601.0l1.75 3.0h-3.5z"/><path d="M339.4 602.6l1.75 3.0h-3.5z"/><path d="M335.3 605.8l1.75 3.0h-3.5z"/><path d="M341.2 608.8l1.75 3.0h-3.5z"/><path d="M342.6 609.9l1.75 3.0h-3.5z"/><path d="M338.2 614.0l1.75 3.0h-3.5z"/><path d="M348.0 614.0l1.75 3.0h-3.5z"/><path d="M366.1 615.6l1.75 3.0h-3.5z"/><path d="M343.9 620.8l1.75 3.0h-3.5z"/><path d="M345.1 624.5l1.75 3.0h-3.5z"/><path d="M350.7 621.7l1.75 3.0h-3.5z"/><path d="M355.3 623.1l1.75 3.0h-3.5z"/><path d="M363.6 625.4l1.75 3.0h-3.5z"/><path d="M365.0 625.0l1.75 3.0h-3.5z"/><path d="M367.7 622.6l1.75 3.0h-3.5z"/><path d="M349.4 627.0l1.75 3.0h-3.5z"/><path d="M357.6 626.3l1.75 3.0h-3.5z"/><path d="M332.4 629.0l1.75 3.0h-3.5z"/><path d="M336.6 629.0l1.75 3.0h-3.5z"/><path d="M353.0 629.5l1.75 3.0h-3.5z"/><path d="M395.4 599.5l1.75 3.0h-3.5z"/><path d="M401.1 616.9l1.75 3.0h-3.5z"/><path d="M372.9 622.4l1.75 3.0h-3.5z"/><path d="M373.8 623.6l1.75 3.0h-3.5z"/><path d="M368.8 626.3l1.75 3.0h-3.5z"/><path d="M371.6 624.9l1.75 3.0h-3.5z"/><path d="M377.4 620.4l1.75 3.0h-3.5z"/><path d="M387.9 624.9l1.75 3.0h-3.5z"/><path d="M389.3 625.8l1.75 3.0h-3.5z"/><path d="M392.9 623.6l1.75 3.0h-3.5z"/><path d="M397.0 625.6l1.75 3.0h-3.5z"/><path d="M405.4 624.5l1.75 3.0h-3.5z"/><path d="M393.8 627.5l1.75 3.0h-3.5z"/><path d="M399.3 628.6l1.75 3.0h-3.5z"/><path d="M409.3 627.6l1.75 3.0h-3.5z"/><path d="M362.0 628.6l1.75 3.0h-3.5z"/><path d="M419.1 622.9l1.75 3.0h-3.5z"/><path d="M414.1 623.6l1.75 3.0h-3.5z"/><path d="M429.1 624.5l1.75 3.0h-3.5z"/><path d="M410.4 629.0l1.75 3.0h-3.5z"/><path d="M416.8 628.6l1.75 3.0h-3.5z"/><path d="M424.1 628.1l1.75 3.0h-3.5z"/><path d="M435.0 628.6l1.75 3.0h-3.5z"/><path d="M443.2 627.6l1.75 3.0h-3.5z"/><path d="M449.6 627.6l1.75 3.0h-3.5z"/><path d="M426.8 629.0l1.75 3.0h-3.5z"/><path d="M455.4 625.8l1.75 3.0h-3.5z"/><path d="M461.8 626.7l1.75 3.0h-3.5z"/><path d="M464.6 626.3l1.75 3.0h-3.5z"/><path d="M471.8 627.2l1.75 3.0h-3.5z"/><path d="M474.6 625.8l1.75 3.0h-3.5z"/><path d="M484.6 626.7l1.75 3.0h-3.5z"/><path d="M490.9 628.3l1.75 3.0h-3.5z"/><path d="M495.4 626.7l1.75 3.0h-3.5z"/><path d="M450.9 624.0l1.75 3.0h-3.5z"/><path d="M500.9 628.6l1.75 3.0h-3.5z"/><path d="M508.2 629.0l1.75 3.0h-3.5z"/><path d="M514.5 628.7l1.75 3.0h-3.5z"/><path d="M523.6 629.0l1.75 3.0h-3.5z"/><path d="M528.2 627.6l1.75 3.0h-3.5z"/><path d="M352.2 628.2l1.75 3.0h-3.5z"/><path d="M356.4 629.3l1.75 3.0h-3.5z"/><path d="M359.2 628.1l1.75 3.0h-3.5z"/><path d="M360.6 628.4l1.75 3.0h-3.5z"/><path d="M370.4 629.2l1.75 3.0h-3.5z"/><path d="M374.6 628.6l1.75 3.0h-3.5z"/><path d="M376.0 628.4l1.75 3.0h-3.5z"/><path d="M378.8 629.4l1.75 3.0h-3.5z"/><path d="M380.2 628.0l1.75 3.0h-3.5z"/><path d="M381.6 628.7l1.75 3.0h-3.5z"/><path d="M383.0 628.4l1.75 3.0h-3.5z"/><path d="M384.4 627.9l1.75 3.0h-3.5z"/><path d="M385.8 628.2l1.75 3.0h-3.5z"/><path d="M390.0 629.4l1.75 3.0h-3.5z"/><path d="M391.4 629.2l1.75 3.0h-3.5z"/><path d="M398.4 629.0l1.75 3.0h-3.5z"/><path d="M402.6 629.4l1.75 3.0h-3.5z"/><path d="M404.0 628.2l1.75 3.0h-3.5z"/><path d="M406.8 628.0l1.75 3.0h-3.5z"/><path d="M408.2 628.2l1.75 3.0h-3.5z"/><path d="M412.4 628.4l1.75 3.0h-3.5z"/><path d="M415.2 629.3l1.75 3.0h-3.5z"/><path d="M418.0 628.2l1.75 3.0h-3.5z"/><path d="M420.8 628.8l1.75 3.0h-3.5z"/><path d="M422.2 628.1l1.75 3.0h-3.5z"/><path d="M425.1 629.4l1.75 3.0h-3.5z"/><path d="M427.9 628.0l1.75 3.0h-3.5z"/><path d="M430.7 628.7l1.75 3.0h-3.5z"/><path d="M432.1 628.1l1.75 3.0h-3.5z"/><path d="M433.5 629.2l1.75 3.0h-3.5z"/><path d="M436.3 628.5l1.75 3.0h-3.5z"/><path d="M437.7 628.8l1.75 3.0h-3.5z"/><path d="M439.1 628.3l1.75 3.0h-3.5z"/><path d="M440.5 629.3l1.75 3.0h-3.5z"/><path d="M441.9 628.0l1.75 3.0h-3.5z"/><path d="M444.7 628.6l1.75 3.0h-3.5z"/><path d="M446.1 628.0l1.75 3.0h-3.5z"/><path d="M447.5 628.9l1.75 3.0h-3.5z"/><path d="M451.7 628.9l1.75 3.0h-3.5z"/><path d="M453.1 628.1l1.75 3.0h-3.5z"/><path d="M454.5 628.7l1.75 3.0h-3.5z"/><path d="M457.3 629.0l1.75 3.0h-3.5z"/><path d="M458.7 628.1l1.75 3.0h-3.5z"/><path d="M460.1 628.4l1.75 3.0h-3.5z"/><path d="M462.9 628.5l1.75 3.0h-3.5z"/><path d="M465.7 628.7l1.75 3.0h-3.5z"/><path d="M467.1 629.1l1.75 3.0h-3.5z"/><path d="M468.5 628.5l1.75 3.0h-3.5z"/><path d="M469.9 628.5l1.75 3.0h-3.5z"/><path d="M472.7 629.0l1.75 3.0h-3.5z"/><path d="M475.5 628.8l1.75 3.0h-3.5z"/><path d="M476.9 628.2l1.75 3.0h-3.5z"/><path d="M478.3 629.2l1.75 3.0h-3.5z"/><path d="M479.7 629.3l1.75 3.0h-3.5z"/><path d="M481.1 629.0l1.75 3.0h-3.5z"/><path d="M482.5 628.6l1.75 3.0h-3.5z"/><path d="M486.7 628.7l1.75 3.0h-3.5z"/><path d="M488.1 629.3l1.75 3.0h-3.5z"/><path d="M489.5 628.1l1.75 3.0h-3.5z"/><path d="M492.3 628.7l1.75 3.0h-3.5z"/><path d="M493.7 629.3l1.75 3.0h-3.5z"/><path d="M496.5 628.5l1.75 3.0h-3.5z"/><path d="M497.9 628.9l1.75 3.0h-3.5z"/><path d="M499.3 629.1l1.75 3.0h-3.5z"/><path d="M502.1 628.5l1.75 3.0h-3.5z"/><path d="M503.5 628.3l1.75 3.0h-3.5z"/><path d="M504.9 629.4l1.75 3.0h-3.5z"/><path d="M506.3 628.7l1.75 3.0h-3.5z"/><path d="M509.1 628.5l1.75 3.0h-3.5z"/><path d="M510.5 627.9l1.75 3.0h-3.5z"/><path d="M511.9 628.3l1.75 3.0h-3.5z"/><path d="M513.3 629.4l1.75 3.0h-3.5z"/><path d="M516.1 629.4l1.75 3.0h-3.5z"/><path d="M517.5 628.2l1.75 3.0h-3.5z"/><path d="M518.9 629.2l1.75 3.0h-3.5z"/><path d="M520.3 628.9l1.75 3.0h-3.5z"/><path d="M521.7 629.4l1.75 3.0h-3.5z"/><path d="M524.5 628.5l1.75 3.0h-3.5z"/><path d="M525.9 628.6l1.75 3.0h-3.5z"/><path d="M527.3 629.4l1.75 3.0h-3.5z"/><path d="M530.1 629.3l1.75 3.0h-3.5z"/></g>
<g fill="#0000ff"><rect x="329.81" y="489.73" width="2.5" height="2.5"/><rect x="331.30" y="564.84" width="2.5" height="2.5"/><rect x="335.39" y="584.48" width="2.5" height="2.5"/><rect x="338.39" y="585.57" width="2.5" height="2.5"/><rect x="345.39" y="584.66" width="2.5" height="2.5"/><rect x="334.02" y="587.39" width="2.5" height="2.5"/><rect x="339.93" y="598.30" width="2.5" height="2.5"/><rect x="336.93" y="612.20" width="2.5" height="2.5"/><rect x="348.11" y="609.84" width="2.5" height="2.5"/><rect x="349.66" y="615.57" width="2.5" height="2.5"/><rect x="340.84" y="616.48" width="2.5" height="2.5"/><rect x="343.84" y="618.75" width="2.5" height="2.5"/><rect x="346.57" y="619.84" width="2.5" height="2.5"/><rect x="342.66" y="623.48" width="2.5" height="2.5"/><rect x="358.11" y="622.84" width="2.5" height="2.5"/><rect x="361.93" y="622.84" width="2.5" height="2.5"/><rect x="363.29" y="621.48" width="2.5" height="2.5"/><rect x="365.12" y="617.62" width="2.5" height="2.5"/><rect x="353.57" y="624.66" width="2.5" height="2.5"/><rect x="332.66" y="626.48" width="2.5" height="2.5"/><rect x="328.57" y="628.75" width="2.5" height="2.5"/><rect x="350.84" y="627.84" width="2.5" height="2.5"/><rect x="352.20" y="628.75" width="2.5" height="2.5"/><rect x="355.84" y="627.84" width="2.5" height="2.5"/><rect x="354.93" y="629.20" width="2.5" height="2.5"/><rect x="359.93" y="629.20" width="2.5" height="2.5"/><rect x="394.20" y="590.44" width="2.5" height="2.5"/><rect x="369.11" y="603.02" width="2.5" height="2.5"/><rect x="395.75" y="608.11" width="2.5" height="2.5"/><rect x="399.84" y="611.20" width="2.5" height="2.5"/><rect x="391.66" y="618.48" width="2.5" height="2.5"/><rect x="393.02" y="617.57" width="2.5" height="2.5"/><rect x="397.11" y="620.30" width="2.5" height="2.5"/><rect x="371.66" y="618.48" width="2.5" height="2.5"/><rect x="373.02" y="620.11" width="2.5" height="2.5"/><rect x="374.84" y="621.20" width="2.5" height="2.5"/><rect x="367.57" y="622.66" width="2.5" height="2.5"/><rect x="384.39" y="624.84" width="2.5" height="2.5"/><rect x="377.11" y="627.20" width="2.5" height="2.5"/><rect x="379.84" y="626.02" width="2.5" height="2.5"/><rect x="389.84" y="625.57" width="2.5" height="2.5"/><rect x="398.48" y="626.48" width="2.5" height="2.5"/><rect x="401.66" y="624.84" width="2.5" height="2.5"/><rect x="382.57" y="629.66" width="2.5" height="2.5"/><rect x="387.11" y="629.20" width="2.5" height="2.5"/><rect x="361.20" y="630.11" width="2.5" height="2.5"/><rect x="412.39" y="622.66" width="2.5" height="2.5"/><rect x="426.48" y="619.20" width="2.5" height="2.5"/><rect x="414.66" y="626.02" width="2.5" height="2.5"/><rect x="417.39" y="626.02" width="2.5" height="2.5"/><rect x="423.30" y="626.93" width="2.5" height="2.5"/><rect x="430.11" y="627.39" width="2.5" height="2.5"/><rect x="434.66" y="626.48" width="2.5" height="2.5"/><rect x="438.30" y="627.39" width="2.5" height="2.5"/><rect x="446.02" y="624.66" width="2.5" height="2.5"/><rect x="404.66" y="629.20" width="2.5" height="2.5"/><rect x="409.20" y="628.30" width="2.5" height="2.5"/><rect x="420.11" y="628.30" width="2.5" height="2.5"/><rect x="429.20" y="629.20" width="2.5" height="2.5"/><rect x="444.66" y="628.30" width="2.5" height="2.5"/><rect x="451.02" y="628.30" width="2.5" height="2.5"/><rect x="460.11" y="616.48" width="2.5" height="2.5"/><rect x="466.93" y="625.57" width="2.5" height="2.5"/><rect x="465.57" y="626.48" width="2.5" height="2.5"/><rect x="476.93" y="625.57" width="2.5" height="2.5"/><rect x="494.88" y="625.57" width="2.5" height="2.5"/><rect x="452.39" y="628.30" width="2.5" height="2.5"/><rect x="462.39" y="628.75" width="2.5" height="2.5"/><rect x="469.66" y="629.20" width="2.5" height="2.5"/><rect x="475.11" y="627.39" width="2.5" height="2.5"/><rect x="480.57" y="628.30" width="2.5" height="2.5"/><rect x="484.20" y="629.20" width="2.5" height="2.5"/><rect x="488.75" y="628.75" width="2.5" height="2.5"/><rect x="492.39" y="628.30" width="2.5" height="2.5"/><rect x="496.93" y="629.20" width="2.5" height="2.5"/><rect x="511.93" y="626.48" width="2.5" height="2.5"/><rect x="497.84" y="628.30" width="2.5" height="2.5"/><rect x="505.11" y="628.75" width="2.5" height="2.5"/><rect x="509.66" y="629.20" width="2.5" height="2.5"/><rect x="515.11" y="628.30" width="2.5" height="2.5"/><rect x="519.66" y="628.30" width="2.5" height="2.5"/><rect x="524.20" y="627.84" width="2.5" height="2.5"/><rect x="491.48" y="629.20" width="2.5" height="2.5"/><rect x="366.37" y="628.95" width="2.5" height="2.5"/><rect x="370.57" y="627.07" width="2.5" height="2.5"/><rect x="376.18" y="627.35" width="2.5" height="2.5"/><rect x="378.98" y="627.96" width="2.5" height="2.5"/><rect x="381.78" y="628.88" width="2.5" height="2.5"/><rect x="385.98" y="628.96" width="2.5" height="2.5"/><rect x="388.78" y="627.07" width="2.5" height="2.5"/><rect x="402.79" y="627.87" width="2.5" height="2.5"/><rect x="405.59" y="627.76" width="2.5" height="2.5"/><rect x="406.99" y="628.11" width="2.5" height="2.5"/><rect x="408.39" y="628.23" width="2.5" height="2.5"/><rect x="411.19" y="627.05" width="2.5" height="2.5"/><rect x="418.20" y="628.02" width="2.5" height="2.5"/><rect x="421.00" y="627.07" width="2.5" height="2.5"/><rect x="422.40" y="627.69" width="2.5" height="2.5"/><rect x="425.20" y="628.12" width="2.5" height="2.5"/><rect x="428.00" y="628.75" width="2.5" height="2.5"/><rect x="432.20" y="627.80" width="2.5" height="2.5"/><rect x="433.60" y="628.02" width="2.5" height="2.5"/><rect x="436.41" y="628.49" width="2.5" height="2.5"/><rect x="439.21" y="627.09" width="2.5" height="2.5"/><rect x="440.61" y="628.63" width="2.5" height="2.5"/><rect x="442.01" y="628.74" width="2.5" height="2.5"/><rect x="443.41" y="627.16" width="2.5" height="2.5"/><rect x="447.61" y="628.71" width="2.5" height="2.5"/><rect x="449.01" y="626.98" width="2.5" height="2.5"/><rect x="453.21" y="628.78" width="2.5" height="2.5"/><rect x="454.61" y="627.77" width="2.5" height="2.5"/><rect x="456.02" y="628.47" width="2.5" height="2.5"/><rect x="457.42" y="627.28" width="2.5" height="2.5"/><rect x="458.82" y="628.08" width="2.5" height="2.5"/><rect x="461.62" y="629.23" width="2.5" height="2.5"/><rect x="464.42" y="629.08" width="2.5" height="2.5"/><rect x="468.62" y="629.06" width="2.5" height="2.5"/><rect x="471.42" y="628.17" width="2.5" height="2.5"/><rect x="472.82" y="628.34" width="2.5" height="2.5"/><rect x="474.22" y="629.24" width="2.5" height="2.5"/><rect x="478.43" y="628.89" width="2.5" height="2.5"/><rect x="482.63" y="628.64" width="2.5" height="2.5"/><rect x="485.43" y="628.71" width="2.5" height="2.5"/><rect x="486.83" y="627.52" width="2.5" height="2.5"/><rect x="489.63" y="628.42" width="2.5" height="2.5"/><rect x="493.83" y="627.10" width="2.5" height="2.5"/><rect x="499.44" y="629.10" width="2.5" height="2.5"/><rect x="500.84" y="629.13" width="2.5" height="2.5"/><rect x="502.24" y="627.49" width="2.5" height="2.5"/><rect x="503.64" y="628.93" width="2.5" height="2.5"/><rect x="506.44" y="628.18" width="2.5" height="2.5"/><rect x="507.84" y="628.88" width="2.5" height="2.5"/><rect x="510.64" y="627.16" width="2.5" height="2.5"/><rect x="513.44" y="628.20" width="2.5" height="2.5"/><rect x="516.24" y="628.03" width="2.5" height="2.5"/><rect x="517.64" y="629.23" width="2.5" height="2.5"/><rect x="520.45" y="628.81" width="2.5" height="2.5"/><rect x="521.85" y="627.97" width="2.5" height="2.5"/><rect x="523.25" y="628.96" width="2.5" height="2.5"/><rect x="526.05" y="628.92" width="2.5" height="2.5"/><rect x="527.45" y="628.50" width="2.5" height="2.5"/><rect x="528.85" y="627.26" width="2.5" height="2.5"/></g>
<g fill="#000"><circle cx="328.4" cy="534.7" r="1.38"/><circle cx="330.0" cy="533.4" r="1.38"/><circle cx="335.4" cy="552.8" r="1.38"/><circle cx="333.9" cy="568.2" r="1.38"/><circle cx="336.6" cy="584.1" r="1.38"/><circle cx="332.4" cy="585.9" r="1.38"/><circle cx="356.4" cy="582.7" r="1.38"/><circle cx="360.3" cy="599.5" r="1.38"/><circle cx="359.1" cy="604.1" r="1.38"/><circle cx="362.1" cy="604.5" r="1.38"/><circle cx="367.6" cy="605.0" r="1.38"/><circle cx="339.4" cy="603.8" r="1.38"/><circle cx="354.8" cy="608.0" r="1.38"/><circle cx="331.2" cy="612.0" r="1.38"/><circle cx="338.0" cy="611.4" r="1.38"/><circle cx="350.3" cy="611.6" r="1.38"/><circle cx="363.0" cy="611.8" r="1.38"/><circle cx="364.4" cy="613.2" r="1.38"/><circle cx="357.8" cy="614.4" r="1.38"/><circle cx="346.6" cy="614.1" r="1.38"/><circle cx="353.4" cy="616.4" r="1.38"/><circle cx="352.1" cy="619.3" r="1.38"/><circle cx="342.6" cy="618.6" r="1.38"/><circle cx="341.6" cy="620.5" r="1.38"/><circle cx="340.7" cy="621.4" r="1.38"/><circle cx="349.4" cy="622.3" r="1.38"/><circle cx="344.8" cy="629.1" r="1.38"/><circle cx="348.0" cy="630.9" r="1.38"/><circle cx="366.1" cy="629.8" r="1.38"/><circle cx="370.4" cy="566.3" r="1.38"/><circle cx="374.5" cy="579.9" r="1.38"/><circle cx="373.1" cy="584.5" r="1.38"/><circle cx="400.9" cy="583.4" r="1.38"/><circle cx="395.4" cy="587.3" r="1.38"/><circle cx="375.8" cy="595.9" r="1.38"/><circle cx="397.0" cy="597.7" r="1.38"/><circle cx="398.4" cy="603.0" r="1.38"/><circle cx="371.8" cy="613.9" r="1.38"/><circle cx="394.0" cy="610.9" r="1.38"/><circle cx="399.7" cy="609.7" r="1.38"/><circle cx="402.4" cy="613.2" r="1.38"/><circle cx="368.8" cy="619.4" r="1.38"/><circle cx="405.4" cy="618.6" r="1.38"/><circle cx="409.4" cy="621.2" r="1.38"/><circle cx="388.4" cy="620.6" r="1.38"/><circle cx="389.7" cy="621.8" r="1.38"/><circle cx="380.2" cy="621.8" r="1.38"/><circle cx="392.9" cy="623.9" r="1.38"/><circle cx="376.6" cy="625.5" r="1.38"/><circle cx="379.3" cy="626.4" r="1.38"/><circle cx="382.4" cy="625.9" r="1.38"/><circle cx="384.7" cy="629.5" r="1.38"/><circle cx="386.6" cy="628.6" r="1.38"/><circle cx="389.3" cy="630.0" r="1.38"/><circle cx="404.7" cy="629.5" r="1.38"/><circle cx="407.4" cy="630.5" r="1.38"/><circle cx="411.0" cy="628.4" r="1.38"/><circle cx="414.8" cy="595.9" r="1.38"/><circle cx="416.6" cy="598.5" r="1.38"/><circle cx="430.6" cy="606.6" r="1.38"/><circle cx="413.6" cy="618.5" r="1.38"/><circle cx="438.8" cy="617.0" r="1.38"/><circle cx="419.1" cy="620.0" r="1.38"/><circle cx="418.2" cy="621.8" r="1.38"/><circle cx="422.1" cy="621.8" r="1.38"/><circle cx="434.6" cy="620.9" r="1.38"/><circle cx="437.7" cy="622.1" r="1.38"/><circle cx="447.3" cy="622.7" r="1.38"/><circle cx="445.9" cy="625.0" r="1.38"/><circle cx="423.6" cy="624.8" r="1.38"/><circle cx="426.4" cy="624.1" r="1.38"/><circle cx="407.7" cy="626.8" r="1.38"/><circle cx="420.9" cy="627.3" r="1.38"/><circle cx="428.6" cy="627.3" r="1.38"/><circle cx="433.6" cy="626.8" r="1.38"/><circle cx="441.4" cy="626.8" r="1.38"/><circle cx="444.1" cy="628.2" r="1.38"/><circle cx="449.6" cy="626.8" r="1.38"/><circle cx="453.9" cy="625.9" r="1.38"/><circle cx="466.8" cy="606.8" r="1.38"/><circle cx="498.0" cy="610.0" r="1.38"/><circle cx="496.4" cy="615.2" r="1.38"/><circle cx="458.6" cy="619.1" r="1.38"/><circle cx="465.9" cy="618.2" r="1.38"/><circle cx="464.6" cy="619.7" r="1.38"/><circle cx="463.6" cy="620.9" r="1.38"/><circle cx="461.4" cy="621.8" r="1.38"/><circle cx="460.0" cy="623.6" r="1.38"/><circle cx="470.0" cy="619.5" r="1.38"/><circle cx="476.8" cy="617.7" r="1.38"/><circle cx="455.9" cy="623.6" r="1.38"/><circle cx="479.6" cy="624.5" r="1.38"/><circle cx="471.4" cy="625.5" r="1.38"/><circle cx="472.7" cy="625.9" r="1.38"/><circle cx="484.6" cy="625.5" r="1.38"/><circle cx="486.4" cy="626.4" r="1.38"/><circle cx="489.1" cy="625.9" r="1.38"/><circle cx="492.0" cy="625.8" r="1.38"/><circle cx="462.7" cy="626.8" r="1.38"/><circle cx="450.9" cy="628.2" r="1.38"/><circle cx="452.7" cy="631.4" r="1.38"/><circle cx="459.1" cy="630.5" r="1.38"/><circle cx="468.2" cy="629.5" r="1.38"/><circle cx="474.6" cy="630.9" r="1.38"/><circle cx="479.1" cy="629.5" r="1.38"/><circle cx="487.3" cy="630.9" r="1.38"/><circle cx="495.4" cy="629.5" r="1.38"/><circle cx="499.6" cy="627.7" r="1.38"/><circle cx="525.9" cy="607.5" r="1.38"/><circle cx="511.8" cy="619.1" r="1.38"/><circle cx="520.0" cy="622.1" r="1.38"/><circle cx="500.7" cy="624.1" r="1.38"/><circle cx="507.7" cy="624.8" r="1.38"/><circle cx="513.2" cy="625.2" r="1.38"/><circle cx="516.4" cy="625.9" r="1.38"/><circle cx="517.3" cy="624.8" r="1.38"/><circle cx="522.9" cy="625.0" r="1.38"/><circle cx="528.9" cy="627.0" r="1.38"/><circle cx="502.3" cy="627.0" r="1.38"/><circle cx="505.9" cy="627.7" r="1.38"/><circle cx="509.1" cy="628.2" r="1.38"/><circle cx="524.5" cy="628.2" r="1.38"/><circle cx="503.6" cy="630.0" r="1.38"/><circle cx="512.7" cy="629.5" r="1.38"/><circle cx="519.1" cy="630.5" r="1.38"/><circle cx="527.3" cy="630.5" r="1.38"/><circle cx="412.4" cy="628.4" r="1.38"/><circle cx="425.1" cy="628.5" r="1.38"/><circle cx="427.9" cy="628.2" r="1.38"/><circle cx="432.1" cy="627.1" r="1.38"/><circle cx="436.3" cy="628.9" r="1.38"/><circle cx="440.5" cy="627.9" r="1.38"/><circle cx="443.3" cy="627.8" r="1.38"/><circle cx="451.7" cy="628.8" r="1.38"/><circle cx="457.3" cy="627.4" r="1.38"/><circle cx="475.5" cy="629.5" r="1.38"/><circle cx="478.3" cy="629.2" r="1.38"/><circle cx="481.1" cy="628.5" r="1.38"/><circle cx="482.5" cy="627.5" r="1.38"/><circle cx="488.1" cy="628.4" r="1.38"/><circle cx="490.9" cy="630.2" r="1.38"/><circle cx="493.7" cy="629.2" r="1.38"/><circle cx="504.9" cy="630.1" r="1.38"/><circle cx="510.5" cy="628.0" r="1.38"/><circle cx="514.7" cy="628.2" r="1.38"/><circle cx="521.7" cy="628.0" r="1.38"/><circle cx="530.1" cy="629.6" r="1.38"/></g>
</g>
<rect x="320.0" y="475.4" width="210.1" height="156.2" fill="none" stroke="#484848" stroke-width="1.25"/>
<path d="M320.00 631.6v3M327.00 631.6v1.6M334.01 631.6v3M341.01 631.6v1.6M348.01 631.6v3M355.02 631.6v1.6M362.02 631.6v3M369.02 631.6v1.6M376.03 631.6v3M383.03 631.6v1.6M390.03 631.6v3M397.04 631.6v1.6M404.04 631.6v3M411.04 631.6v1.6M418.05 631.6v3M425.05 631.6v1.6M432.05 631.6v3M439.06 631.6v1.6M446.06 631.6v3M453.06 631.6v1.6M460.07 631.6v3M467.07 631.6v1.6M474.07 631.6v3M481.08 631.6v1.6M488.08 631.6v3M495.08 631.6v1.6M502.09 631.6v3M509.09 631.6v1.6M516.09 631.6v3M523.10 631.6v1.6M530.10 631.6v3M320.0 631.60h-3M320.0 618.58h-1.6M320.0 605.57h-3M320.0 592.55h-1.6M320.0 579.53h-3M320.0 566.52h-1.6M320.0 553.50h-3M320.0 540.48h-1.6M320.0 527.47h-3M320.0 514.45h-1.6M320.0 501.43h-3M320.0 488.42h-1.6M320.0 475.40h-3" stroke="#2a2a2a" stroke-width="1.1" fill="none"/>
<g font-size="6.6" fill="#222" stroke="#222" stroke-width="0.14" letter-spacing="0.3"><text x="320.00" y="643.1" text-anchor="middle">0</text><text x="334.01" y="643.1" text-anchor="middle">10</text><text x="348.01" y="643.1" text-anchor="middle">20</text><text x="362.02" y="643.1" text-anchor="middle">30</text><text x="376.03" y="643.1" text-anchor="middle">40</text><text x="390.03" y="643.1" text-anchor="middle">50</text><text x="404.04" y="643.1" text-anchor="middle">60</text><text x="418.05" y="643.1" text-anchor="middle">70</text><text x="432.05" y="643.1" text-anchor="middle">80</text><text x="446.06" y="643.1" text-anchor="middle">90</text><text x="460.07" y="643.1" text-anchor="middle">100</text><text x="474.07" y="643.1" text-anchor="middle">110</text><text x="488.08" y="643.1" text-anchor="middle">120</text><text x="502.09" y="643.1" text-anchor="middle">130</text><text x="516.09" y="643.1" text-anchor="middle">140</text><text x="530.10" y="643.1" text-anchor="middle">150</text><text x="315.40" y="634.0" text-anchor="end">0</text><text x="315.40" y="608.0" text-anchor="end">10</text><text x="315.40" y="581.9" text-anchor="end">20</text><text x="315.40" y="555.9" text-anchor="end">30</text><text x="315.40" y="529.9" text-anchor="end">40</text><text x="315.40" y="503.8" text-anchor="end">50</text><text x="315.40" y="477.8" text-anchor="end">60</text></g>
<text x="425.1" y="655.9" text-anchor="middle" font-size="8.3" fill="#111" stroke="#111" stroke-width="0.18" textLength="36.7" lengthAdjust="spacingAndGlyphs">Time (day)</text>
<text transform="translate(304.9,553.1) rotate(-90)" text-anchor="middle" font-size="8.3" fill="#111" stroke="#111" stroke-width="0.18" textLength="38.4" lengthAdjust="spacingAndGlyphs">MAPE (%)</text>
<rect x="385.6" y="484.6" width="85.0" height="28.8" fill="#fff" stroke="#555" stroke-width="0.8"/>
<path d="M395.6 488.4l1.35 2.3h-2.7z" fill="#f00"/>
<text x="405.6" y="492.8" font-size="7.6" fill="#111" stroke="#111" stroke-width="0.18">MDF model</text>
<rect x="394.7" y="498.4" width="1.9" height="1.9" fill="#00f"/>
<text x="405.6" y="502.3" font-size="7.6" fill="#111" stroke="#111" stroke-width="0.18">single-feature LSTM</text>
<circle cx="395.6" cy="508.8" r="1.0" fill="#000"/>
<text x="405.6" y="511.8" font-size="7.6" fill="#111" stroke="#111" stroke-width="0.18">multi-feature LSTM</text>
<text x="413.6" y="679.5" text-anchor="middle" font-size="13.8" fill="#000" textLength="40.4" lengthAdjust="spacingAndGlyphs">(<tspan font-weight="bold">f</tspan>) CJ6</text>
</svg>
</body></html>
